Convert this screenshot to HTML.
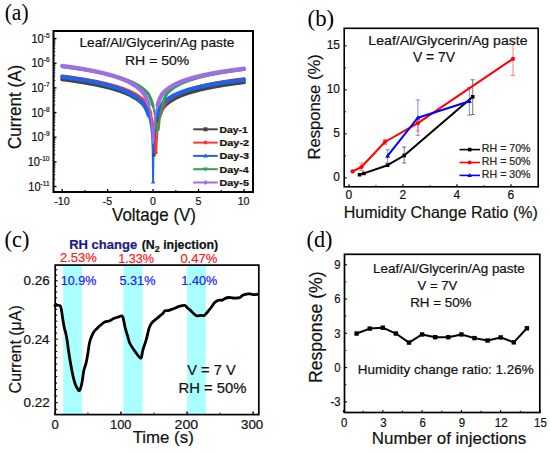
<!DOCTYPE html>
<html><head><meta charset="utf-8"><style>
html,body{margin:0;padding:0;background:#fff;width:550px;height:452px;overflow:hidden}
svg{display:block}
</style></head><body>
<svg width="550" height="452" viewBox="0 0 550 452">
<rect width="550" height="452" fill="#fff"/>
<text transform="matrix(0.9610 0 0 1 4.63 20.49)" font-family="Liberation Serif" font-size="22.44" font-weight="normal" fill="#000">(a)</text>
<polyline points="62.20,79.38 62.65,79.44 63.11,79.50 63.56,79.56 64.02,79.62 64.47,79.68 64.93,79.74 65.38,79.80 65.84,79.86 66.29,79.92 66.74,79.98 67.20,80.04 67.65,80.10 68.11,80.16 68.56,80.23 69.02,80.29 69.47,80.35 69.93,80.41 70.38,80.48 70.84,80.54 71.29,80.61 71.74,80.67 72.20,80.74 72.65,80.80 73.11,80.87 73.56,80.93 74.02,81.00 74.47,81.07 74.93,81.13 75.38,81.20 75.83,81.27 76.29,81.34 76.74,81.41 77.20,81.47 77.65,81.54 78.11,81.61 78.56,81.68 79.02,81.76 79.47,81.83 79.93,81.90 80.38,81.97 80.83,82.04 81.29,82.12 81.74,82.19 82.20,82.26 82.65,82.34 83.11,82.41 83.56,82.49 84.02,82.56 84.47,82.64 84.92,82.72 85.38,82.80 85.83,82.87 86.29,82.95 86.74,83.03 87.20,83.11 87.65,83.19 88.11,83.27 88.56,83.35 89.02,83.43 89.47,83.52 89.92,83.60 90.38,83.68 90.83,83.77 91.29,83.85 91.74,83.94 92.20,84.02 92.65,84.11 93.11,84.20 93.56,84.28 94.01,84.37 94.47,84.46 94.92,84.55 95.38,84.64 95.83,84.73 96.29,84.83 96.74,84.92 97.20,85.01 97.65,85.11 98.11,85.20 98.56,85.30 99.01,85.39 99.47,85.49 99.92,85.59 100.38,85.69 100.83,85.79 101.29,85.89 101.74,85.99 102.20,86.09 102.65,86.19 103.10,86.30 103.56,86.40 104.01,86.51 104.47,86.62 104.92,86.73 105.38,86.83 105.83,86.94 106.29,87.06 106.74,87.17 107.20,87.28 107.65,87.40 108.10,87.51 108.56,87.63 109.01,87.75 109.47,87.86 109.92,87.98 110.38,88.11 110.83,88.23 111.29,88.35 111.74,88.48 112.19,88.61 112.65,88.73 113.10,88.86 113.56,88.99 114.01,89.13 114.47,89.26 114.92,89.40 115.38,89.53 115.83,89.67 116.29,89.81 116.74,89.95 117.19,90.10 117.65,90.24 118.10,90.39 118.56,90.54 119.01,90.69 119.47,90.85 119.92,91.00 120.38,91.16 120.83,91.32 121.28,91.48 121.74,91.64 122.19,91.81 122.65,91.98 123.10,92.15 123.56,92.32 124.01,92.50 124.47,92.68 124.92,92.86 125.38,93.05 125.83,93.23 126.28,93.42 126.74,93.62 127.19,93.81 127.65,94.02 128.10,94.22 128.56,94.43 129.01,94.64 129.47,94.85 129.92,95.07 130.38,95.30 130.83,95.52 131.28,95.76 131.74,95.99 132.19,96.23 132.65,96.48 133.10,96.73 133.56,96.99 134.01,97.25 134.47,97.52 134.92,97.80 135.37,98.08 135.83,98.37 136.28,98.67 136.74,98.97 137.19,99.29 137.65,99.61 138.10,99.94 138.56,100.28 139.01,100.63 139.47,100.99 139.92,101.36 140.37,101.75 140.83,102.14 141.28,102.55 141.74,102.98 142.19,103.42 142.65,103.88 143.10,104.36 143.56,104.86 144.01,105.38 144.46,105.93 144.92,106.50 145.37,107.17 145.83,107.87 146.28,108.62 146.74,109.41 147.19,110.25 147.65,111.15 148.10,112.11 148.56,113.16 149.01,114.29 149.46,115.53 149.92,116.90 150.37,118.44 150.83,120.18 151.28,122.19 151.74,124.56 152.19,127.47 152.65,131.22 153.10,136.50 153.55,145.53 154.01,155.00 154.46,146.73 154.92,137.70 155.37,132.42 155.83,128.67 156.28,125.76 156.74,123.39 157.19,121.38 157.64,119.64 158.10,118.10 158.55,116.73 159.01,115.49 159.46,114.36 159.92,113.31 160.37,112.35 160.83,111.45 161.28,110.61 161.74,109.82 162.19,109.07 162.64,108.37 163.10,107.70 163.55,107.16 164.01,106.64 164.46,106.15 164.92,105.68 165.37,105.23 165.83,104.79 166.28,104.38 166.73,103.97 167.19,103.59 167.64,103.21 168.10,102.85 168.55,102.49 169.01,102.15 169.46,101.82 169.92,101.50 170.37,101.19 170.83,100.89 171.28,100.59 171.73,100.30 172.19,100.02 172.64,99.75 173.10,99.48 173.55,99.22 174.01,98.97 174.46,98.72 174.92,98.48 175.37,98.24 175.82,98.00 176.28,97.78 176.73,97.55 177.19,97.33 177.64,97.12 178.10,96.91 178.55,96.70 179.01,96.50 179.46,96.30 179.92,96.10 180.37,95.91 180.82,95.72 181.28,95.53 181.73,95.35 182.19,95.17 182.64,94.99 183.10,94.82 183.55,94.65 184.01,94.48 184.46,94.31 184.91,94.15 185.37,93.99 185.82,93.83 186.28,93.67 186.73,93.51 187.19,93.36 187.64,93.21 188.10,93.06 188.55,92.92 189.01,92.77 189.46,92.63 189.91,92.49 190.37,92.35 190.82,92.21 191.28,92.07 191.73,91.94 192.19,91.81 192.64,91.68 193.10,91.55 193.55,91.42 194.00,91.29 194.46,91.17 194.91,91.04 195.37,90.92 195.82,90.80 196.28,90.68 196.73,90.56 197.19,90.44 197.64,90.33 198.10,90.21 198.55,90.10 199.00,89.99 199.46,89.88 199.91,89.77 200.37,89.66 200.82,89.55 201.28,89.44 201.73,89.34 202.19,89.23 202.64,89.13 203.09,89.02 203.55,88.92 204.00,88.82 204.46,88.72 204.91,88.62 205.37,88.52 205.82,88.43 206.28,88.33 206.73,88.23 207.19,88.14 207.64,88.04 208.09,87.95 208.55,87.86 209.00,87.77 209.46,87.67 209.91,87.58 210.37,87.49 210.82,87.41 211.28,87.32 211.73,87.23 212.19,87.14 212.64,87.06 213.09,86.97 213.55,86.89 214.00,86.80 214.46,86.72 214.91,86.64 215.37,86.55 215.82,86.47 216.28,86.39 216.73,86.31 217.18,86.23 217.64,86.15 218.09,86.07 218.55,85.99 219.00,85.92 219.46,85.84 219.91,85.76 220.37,85.69 220.82,85.61 221.27,85.53 221.73,85.46 222.18,85.39 222.64,85.31 223.09,85.24 223.55,85.17 224.00,85.09 224.46,85.02 224.91,84.95 225.37,84.88 225.82,84.81 226.27,84.74 226.73,84.67 227.18,84.60 227.64,84.53 228.09,84.47 228.55,84.40 229.00,84.33 229.46,84.26 229.91,84.20 230.37,84.13 230.82,84.07 231.27,84.00 231.73,83.93 232.18,83.87 232.64,83.81 233.09,83.74 233.55,83.68 234.00,83.62 234.46,83.55 234.91,83.49 235.36,83.43 235.82,83.37 236.27,83.31 236.73,83.24 237.18,83.18 237.64,83.12 238.09,83.06 238.55,83.00 239.00,82.94 239.45,82.89 239.91,82.83 240.36,82.77 240.82,82.71 241.27,82.65 241.73,82.59 242.18,82.54 242.64,82.48 243.09,82.42 243.55,82.37 244.00,82.31" fill="none" stroke="#444444" stroke-width="1.9" stroke-linejoin="round" stroke-linecap="round" />
<polyline points="62.20,79.38 62.65,79.44 63.11,79.50 63.56,79.56 64.02,79.62 64.47,79.68 64.93,79.74 65.38,79.80 65.84,79.86 66.29,79.92 66.74,79.98 67.20,80.04 67.65,80.10 68.11,80.16 68.56,80.23 69.02,80.29 69.47,80.35 69.93,80.41 70.38,80.48 70.84,80.54 71.29,80.61 71.74,80.67 72.20,80.74 72.65,80.80 73.11,80.87 73.56,80.93 74.02,81.00 74.47,81.07 74.93,81.13 75.38,81.20 75.83,81.27 76.29,81.34 76.74,81.41 77.20,81.47 77.65,81.54 78.11,81.61 78.56,81.68 79.02,81.76 79.47,81.83 79.93,81.90 80.38,81.97 80.83,82.04 81.29,82.12 81.74,82.19 82.20,82.26 82.65,82.34 83.11,82.41 83.56,82.49 84.02,82.56 84.47,82.64 84.92,82.72 85.38,82.80 85.83,82.87 86.29,82.95 86.74,83.03 87.20,83.11 87.65,83.19 88.11,83.27 88.56,83.35 89.02,83.43 89.47,83.52 89.92,83.60 90.38,83.68 90.83,83.77 91.29,83.85 91.74,83.94 92.20,84.02 92.65,84.11 93.11,84.20 93.56,84.28 94.01,84.37 94.47,84.46 94.92,84.55 95.38,84.64 95.83,84.73 96.29,84.83 96.74,84.92 97.20,85.01 97.65,85.11 98.11,85.20 98.56,85.30 99.01,85.39 99.47,85.49 99.92,85.59 100.38,85.69 100.83,85.79 101.29,85.89 101.74,85.99 102.20,86.09 102.65,86.19 103.10,86.30 103.56,86.40 104.01,86.51 104.47,86.62 104.92,86.73 105.38,86.83 105.83,86.94 106.29,87.06 106.74,87.17 107.20,87.28 107.65,87.40 108.10,87.51 108.56,87.63 109.01,87.75 109.47,87.86 109.92,87.98 110.38,88.11 110.83,88.23 111.29,88.35 111.74,88.48 112.19,88.61 112.65,88.73 113.10,88.86 113.56,88.99 114.01,89.13 114.47,89.26 114.92,89.40 115.38,89.53 115.83,89.67 116.29,89.81 116.74,89.95 117.19,90.10 117.65,90.24 118.10,90.39 118.56,90.54 119.01,90.69 119.47,90.85 119.92,91.00 120.38,91.16 120.83,91.32 121.28,91.48 121.74,91.64 122.19,91.81 122.65,91.98 123.10,92.15 123.56,92.32 124.01,92.50 124.47,92.68 124.92,92.86 125.38,93.05 125.83,93.23 126.28,93.42 126.74,93.62 127.19,93.81 127.65,94.02 128.10,94.22 128.56,94.43 129.01,94.64 129.47,94.85 129.92,95.07 130.38,95.30 130.83,95.52 131.28,95.76 131.74,95.99 132.19,96.23 132.65,96.48 133.10,96.73 133.56,96.99 134.01,97.25 134.47,97.52 134.92,97.80 135.37,98.08 135.83,98.37 136.28,98.67 136.74,98.97 137.19,99.29 137.65,99.61 138.10,99.94 138.56,100.28 139.01,100.63 139.47,100.99 139.92,101.36 140.37,101.75 140.83,102.14 141.28,102.55 141.74,102.98 142.19,103.42 142.65,103.88 143.10,104.36 143.56,104.86 144.01,105.38 144.46,105.93 144.92,106.50 145.37,107.17 145.83,107.87 146.28,108.62 146.74,109.41 147.19,110.25 147.65,111.15 148.10,112.11 148.56,113.16 149.01,114.29 149.46,115.53" fill="none" stroke="#444444" stroke-width="3.8" stroke-linejoin="round" stroke-linecap="round" />
<polyline points="158.55,116.73 159.01,115.49 159.46,114.36 159.92,113.31 160.37,112.35 160.83,111.45 161.28,110.61 161.74,109.82 162.19,109.07 162.64,108.37 163.10,107.70 163.55,107.16 164.01,106.64 164.46,106.15 164.92,105.68 165.37,105.23 165.83,104.79 166.28,104.38 166.73,103.97 167.19,103.59 167.64,103.21 168.10,102.85 168.55,102.49 169.01,102.15 169.46,101.82 169.92,101.50 170.37,101.19 170.83,100.89 171.28,100.59 171.73,100.30 172.19,100.02 172.64,99.75 173.10,99.48 173.55,99.22 174.01,98.97 174.46,98.72 174.92,98.48 175.37,98.24 175.82,98.00 176.28,97.78 176.73,97.55 177.19,97.33 177.64,97.12 178.10,96.91 178.55,96.70 179.01,96.50 179.46,96.30 179.92,96.10 180.37,95.91 180.82,95.72 181.28,95.53 181.73,95.35 182.19,95.17 182.64,94.99 183.10,94.82 183.55,94.65 184.01,94.48 184.46,94.31 184.91,94.15 185.37,93.99 185.82,93.83 186.28,93.67 186.73,93.51 187.19,93.36 187.64,93.21 188.10,93.06 188.55,92.92 189.01,92.77 189.46,92.63 189.91,92.49 190.37,92.35 190.82,92.21 191.28,92.07 191.73,91.94 192.19,91.81 192.64,91.68 193.10,91.55 193.55,91.42 194.00,91.29 194.46,91.17 194.91,91.04 195.37,90.92 195.82,90.80 196.28,90.68 196.73,90.56 197.19,90.44 197.64,90.33 198.10,90.21 198.55,90.10 199.00,89.99 199.46,89.88 199.91,89.77 200.37,89.66 200.82,89.55 201.28,89.44 201.73,89.34 202.19,89.23 202.64,89.13 203.09,89.02 203.55,88.92 204.00,88.82 204.46,88.72 204.91,88.62 205.37,88.52 205.82,88.43 206.28,88.33 206.73,88.23 207.19,88.14 207.64,88.04 208.09,87.95 208.55,87.86 209.00,87.77 209.46,87.67 209.91,87.58 210.37,87.49 210.82,87.41 211.28,87.32 211.73,87.23 212.19,87.14 212.64,87.06 213.09,86.97 213.55,86.89 214.00,86.80 214.46,86.72 214.91,86.64 215.37,86.55 215.82,86.47 216.28,86.39 216.73,86.31 217.18,86.23 217.64,86.15 218.09,86.07 218.55,85.99 219.00,85.92 219.46,85.84 219.91,85.76 220.37,85.69 220.82,85.61 221.27,85.53 221.73,85.46 222.18,85.39 222.64,85.31 223.09,85.24 223.55,85.17 224.00,85.09 224.46,85.02 224.91,84.95 225.37,84.88 225.82,84.81 226.27,84.74 226.73,84.67 227.18,84.60 227.64,84.53 228.09,84.47 228.55,84.40 229.00,84.33 229.46,84.26 229.91,84.20 230.37,84.13 230.82,84.07 231.27,84.00 231.73,83.93 232.18,83.87 232.64,83.81 233.09,83.74 233.55,83.68 234.00,83.62 234.46,83.55 234.91,83.49 235.36,83.43 235.82,83.37 236.27,83.31 236.73,83.24 237.18,83.18 237.64,83.12 238.09,83.06 238.55,83.00 239.00,82.94 239.45,82.89 239.91,82.83 240.36,82.77 240.82,82.71 241.27,82.65 241.73,82.59 242.18,82.54 242.64,82.48 243.09,82.42 243.55,82.37 244.00,82.31" fill="none" stroke="#444444" stroke-width="3.8" stroke-linejoin="round" stroke-linecap="round" />
<polyline points="62.20,76.15 62.65,76.21 63.11,76.26 63.56,76.32 64.02,76.38 64.47,76.44 64.93,76.50 65.38,76.56 65.84,76.62 66.29,76.68 66.74,76.74 67.20,76.80 67.65,76.86 68.11,76.93 68.56,76.99 69.02,77.05 69.47,77.11 69.93,77.18 70.38,77.24 70.84,77.30 71.29,77.37 71.74,77.43 72.20,77.50 72.65,77.56 73.11,77.63 73.56,77.69 74.02,77.76 74.47,77.82 74.93,77.89 75.38,77.96 75.83,78.03 76.29,78.09 76.74,78.16 77.20,78.23 77.65,78.30 78.11,78.37 78.56,78.44 79.02,78.51 79.47,78.58 79.93,78.65 80.38,78.73 80.83,78.80 81.29,78.87 81.74,78.94 82.20,79.02 82.65,79.09 83.11,79.17 83.56,79.24 84.02,79.32 84.47,79.39 84.92,79.47 85.38,79.54 85.83,79.62 86.29,79.70 86.74,79.78 87.20,79.86 87.65,79.94 88.11,80.02 88.56,80.10 89.02,80.18 89.47,80.26 89.92,80.34 90.38,80.42 90.83,80.51 91.29,80.59 91.74,80.67 92.20,80.76 92.65,80.85 93.11,80.93 93.56,81.02 94.01,81.11 94.47,81.19 94.92,81.28 95.38,81.37 95.83,81.46 96.29,81.55 96.74,81.64 97.20,81.74 97.65,81.83 98.11,81.92 98.56,82.02 99.01,82.11 99.47,82.21 99.92,82.31 100.38,82.40 100.83,82.50 101.29,82.60 101.74,82.70 102.20,82.80 102.65,82.90 103.10,83.01 103.56,83.11 104.01,83.21 104.47,83.32 104.92,83.42 105.38,83.53 105.83,83.64 106.29,83.75 106.74,83.86 107.20,83.97 107.65,84.08 108.10,84.20 108.56,84.31 109.01,84.43 109.47,84.54 109.92,84.66 110.38,84.78 110.83,84.90 111.29,85.02 111.74,85.14 112.19,85.27 112.65,85.39 113.10,85.52 113.56,85.65 114.01,85.77 114.47,85.90 114.92,86.04 115.38,86.17 115.83,86.31 116.29,86.44 116.74,86.58 117.19,86.72 117.65,86.86 118.10,87.00 118.56,87.15 119.01,87.29 119.47,87.44 119.92,87.59 120.38,87.75 120.83,87.90 121.28,88.06 121.74,88.21 122.19,88.37 122.65,88.54 123.10,88.70 123.56,88.87 124.01,89.04 124.47,89.21 124.92,89.38 125.38,89.56 125.83,89.74 126.28,89.92 126.74,90.11 127.19,90.30 127.65,90.49 128.10,90.68 128.56,90.88 129.01,91.08 129.47,91.28 129.92,91.49 130.38,91.70 130.83,91.92 131.28,92.14 131.74,92.36 132.19,92.59 132.65,92.82 133.10,93.06 133.56,93.30 134.01,93.54 134.47,93.80 134.92,94.05 135.37,94.31 135.83,94.58 136.28,94.86 136.74,95.14 137.19,95.43 137.65,95.72 138.10,96.02 138.56,96.33 139.01,96.65 139.47,96.98 139.92,97.32 140.37,97.66 140.83,98.02 141.28,98.39 141.74,98.77 142.19,99.16 142.65,99.56 143.10,99.98 143.56,100.42 144.01,100.87 144.46,101.33 144.92,101.82 145.37,102.33 145.83,102.86 146.28,103.42 146.74,104.00 147.19,104.85 147.65,105.74 148.10,106.68 148.56,107.68 149.01,108.75 149.46,109.89 149.92,111.11 150.37,112.43 150.83,113.87 151.28,115.44 151.74,117.18 152.19,119.12 152.65,121.33 153.10,123.87 153.55,126.88 154.01,130.56 154.46,135.31 154.92,142.00 155.37,153.00 155.83,153.00 156.28,153.00 156.74,141.60 157.19,134.91 157.64,130.16 158.10,126.48 158.55,123.47 159.01,120.93 159.46,118.72 159.92,116.78 160.37,115.04 160.83,113.47 161.28,112.03 161.74,110.71 162.19,109.49 162.64,108.35 163.10,107.28 163.55,106.28 164.01,105.34 164.46,104.45 164.92,103.60 165.37,103.07 165.83,102.57 166.28,102.08 166.73,101.62 167.19,101.18 167.64,100.75 168.10,100.34 168.55,99.95 169.01,99.57 169.46,99.20 169.92,98.84 170.37,98.50 170.83,98.16 171.28,97.84 171.73,97.52 172.19,97.22 172.64,96.92 173.10,96.63 173.55,96.35 174.01,96.07 174.46,95.81 174.92,95.54 175.37,95.29 175.82,95.04 176.28,94.80 176.73,94.56 177.19,94.32 177.64,94.09 178.10,93.87 178.55,93.65 179.01,93.44 179.46,93.23 179.92,93.02 180.37,92.82 180.82,92.62 181.28,92.42 181.73,92.23 182.19,92.04 182.64,91.85 183.10,91.67 183.55,91.49 184.01,91.32 184.46,91.14 184.91,90.97 185.37,90.80 185.82,90.64 186.28,90.47 186.73,90.31 187.19,90.15 187.64,90.00 188.10,89.84 188.55,89.69 189.01,89.54 189.46,89.39 189.91,89.25 190.37,89.11 190.82,88.96 191.28,88.82 191.73,88.69 192.19,88.55 192.64,88.41 193.10,88.28 193.55,88.15 194.00,88.02 194.46,87.89 194.91,87.76 195.37,87.64 195.82,87.51 196.28,87.39 196.73,87.27 197.19,87.15 197.64,87.03 198.10,86.91 198.55,86.80 199.00,86.68 199.46,86.57 199.91,86.46 200.37,86.35 200.82,86.23 201.28,86.13 201.73,86.02 202.19,85.91 202.64,85.80 203.09,85.70 203.55,85.60 204.00,85.49 204.46,85.39 204.91,85.29 205.37,85.19 205.82,85.09 206.28,84.99 206.73,84.90 207.19,84.80 207.64,84.70 208.09,84.61 208.55,84.51 209.00,84.42 209.46,84.33 209.91,84.24 210.37,84.15 210.82,84.06 211.28,83.97 211.73,83.88 212.19,83.79 212.64,83.70 213.09,83.62 213.55,83.53 214.00,83.45 214.46,83.36 214.91,83.28 215.37,83.19 215.82,83.11 216.28,83.03 216.73,82.95 217.18,82.87 217.64,82.79 218.09,82.71 218.55,82.63 219.00,82.55 219.46,82.47 219.91,82.40 220.37,82.32 220.82,82.24 221.27,82.17 221.73,82.09 222.18,82.02 222.64,81.94 223.09,81.87 223.55,81.80 224.00,81.72 224.46,81.65 224.91,81.58 225.37,81.51 225.82,81.44 226.27,81.37 226.73,81.30 227.18,81.23 227.64,81.16 228.09,81.09 228.55,81.02 229.00,80.96 229.46,80.89 229.91,80.82 230.37,80.75 230.82,80.69 231.27,80.62 231.73,80.56 232.18,80.49 232.64,80.43 233.09,80.36 233.55,80.30 234.00,80.24 234.46,80.17 234.91,80.11 235.36,80.05 235.82,79.99 236.27,79.93 236.73,79.87 237.18,79.80 237.64,79.74 238.09,79.68 238.55,79.62 239.00,79.56 239.45,79.51 239.91,79.45 240.36,79.39 240.82,79.33 241.27,79.27 241.73,79.21 242.18,79.16 242.64,79.10 243.09,79.04 243.55,78.99 244.00,78.93" fill="none" stroke="#ff3333" stroke-width="1.9" stroke-linejoin="round" stroke-linecap="round" />
<polyline points="62.20,76.15 62.65,76.21 63.11,76.26 63.56,76.32 64.02,76.38 64.47,76.44 64.93,76.50 65.38,76.56 65.84,76.62 66.29,76.68 66.74,76.74 67.20,76.80 67.65,76.86 68.11,76.93 68.56,76.99 69.02,77.05 69.47,77.11 69.93,77.18 70.38,77.24 70.84,77.30 71.29,77.37 71.74,77.43 72.20,77.50 72.65,77.56 73.11,77.63 73.56,77.69 74.02,77.76 74.47,77.82 74.93,77.89 75.38,77.96 75.83,78.03 76.29,78.09 76.74,78.16 77.20,78.23 77.65,78.30 78.11,78.37 78.56,78.44 79.02,78.51 79.47,78.58 79.93,78.65 80.38,78.73 80.83,78.80 81.29,78.87 81.74,78.94 82.20,79.02 82.65,79.09 83.11,79.17 83.56,79.24 84.02,79.32 84.47,79.39 84.92,79.47 85.38,79.54 85.83,79.62 86.29,79.70 86.74,79.78 87.20,79.86 87.65,79.94 88.11,80.02 88.56,80.10 89.02,80.18 89.47,80.26 89.92,80.34 90.38,80.42 90.83,80.51 91.29,80.59 91.74,80.67 92.20,80.76 92.65,80.85 93.11,80.93 93.56,81.02 94.01,81.11 94.47,81.19 94.92,81.28 95.38,81.37 95.83,81.46 96.29,81.55 96.74,81.64 97.20,81.74 97.65,81.83 98.11,81.92 98.56,82.02 99.01,82.11 99.47,82.21 99.92,82.31 100.38,82.40 100.83,82.50 101.29,82.60 101.74,82.70 102.20,82.80 102.65,82.90 103.10,83.01 103.56,83.11 104.01,83.21 104.47,83.32 104.92,83.42 105.38,83.53 105.83,83.64 106.29,83.75 106.74,83.86 107.20,83.97 107.65,84.08 108.10,84.20 108.56,84.31 109.01,84.43 109.47,84.54 109.92,84.66 110.38,84.78 110.83,84.90 111.29,85.02 111.74,85.14 112.19,85.27 112.65,85.39 113.10,85.52 113.56,85.65 114.01,85.77 114.47,85.90 114.92,86.04 115.38,86.17 115.83,86.31 116.29,86.44 116.74,86.58 117.19,86.72 117.65,86.86 118.10,87.00 118.56,87.15 119.01,87.29 119.47,87.44 119.92,87.59 120.38,87.75 120.83,87.90 121.28,88.06 121.74,88.21 122.19,88.37 122.65,88.54 123.10,88.70 123.56,88.87 124.01,89.04 124.47,89.21 124.92,89.38 125.38,89.56 125.83,89.74 126.28,89.92 126.74,90.11 127.19,90.30 127.65,90.49 128.10,90.68 128.56,90.88 129.01,91.08 129.47,91.28 129.92,91.49 130.38,91.70 130.83,91.92 131.28,92.14 131.74,92.36 132.19,92.59 132.65,92.82 133.10,93.06 133.56,93.30 134.01,93.54 134.47,93.80 134.92,94.05 135.37,94.31 135.83,94.58 136.28,94.86 136.74,95.14 137.19,95.43 137.65,95.72 138.10,96.02 138.56,96.33 139.01,96.65 139.47,96.98 139.92,97.32 140.37,97.66 140.83,98.02 141.28,98.39 141.74,98.77 142.19,99.16 142.65,99.56 143.10,99.98 143.56,100.42 144.01,100.87 144.46,101.33 144.92,101.82 145.37,102.33 145.83,102.86 146.28,103.42 146.74,104.00 147.19,104.85 147.65,105.74 148.10,106.68 148.56,107.68 149.01,108.75 149.46,109.89 149.92,111.11 150.37,112.43 150.83,113.87" fill="none" stroke="#ff3333" stroke-width="3.4" stroke-linejoin="round" stroke-linecap="round" />
<polyline points="160.37,115.04 160.83,113.47 161.28,112.03 161.74,110.71 162.19,109.49 162.64,108.35 163.10,107.28 163.55,106.28 164.01,105.34 164.46,104.45 164.92,103.60 165.37,103.07 165.83,102.57 166.28,102.08 166.73,101.62 167.19,101.18 167.64,100.75 168.10,100.34 168.55,99.95 169.01,99.57 169.46,99.20 169.92,98.84 170.37,98.50 170.83,98.16 171.28,97.84 171.73,97.52 172.19,97.22 172.64,96.92 173.10,96.63 173.55,96.35 174.01,96.07 174.46,95.81 174.92,95.54 175.37,95.29 175.82,95.04 176.28,94.80 176.73,94.56 177.19,94.32 177.64,94.09 178.10,93.87 178.55,93.65 179.01,93.44 179.46,93.23 179.92,93.02 180.37,92.82 180.82,92.62 181.28,92.42 181.73,92.23 182.19,92.04 182.64,91.85 183.10,91.67 183.55,91.49 184.01,91.32 184.46,91.14 184.91,90.97 185.37,90.80 185.82,90.64 186.28,90.47 186.73,90.31 187.19,90.15 187.64,90.00 188.10,89.84 188.55,89.69 189.01,89.54 189.46,89.39 189.91,89.25 190.37,89.11 190.82,88.96 191.28,88.82 191.73,88.69 192.19,88.55 192.64,88.41 193.10,88.28 193.55,88.15 194.00,88.02 194.46,87.89 194.91,87.76 195.37,87.64 195.82,87.51 196.28,87.39 196.73,87.27 197.19,87.15 197.64,87.03 198.10,86.91 198.55,86.80 199.00,86.68 199.46,86.57 199.91,86.46 200.37,86.35 200.82,86.23 201.28,86.13 201.73,86.02 202.19,85.91 202.64,85.80 203.09,85.70 203.55,85.60 204.00,85.49 204.46,85.39 204.91,85.29 205.37,85.19 205.82,85.09 206.28,84.99 206.73,84.90 207.19,84.80 207.64,84.70 208.09,84.61 208.55,84.51 209.00,84.42 209.46,84.33 209.91,84.24 210.37,84.15 210.82,84.06 211.28,83.97 211.73,83.88 212.19,83.79 212.64,83.70 213.09,83.62 213.55,83.53 214.00,83.45 214.46,83.36 214.91,83.28 215.37,83.19 215.82,83.11 216.28,83.03 216.73,82.95 217.18,82.87 217.64,82.79 218.09,82.71 218.55,82.63 219.00,82.55 219.46,82.47 219.91,82.40 220.37,82.32 220.82,82.24 221.27,82.17 221.73,82.09 222.18,82.02 222.64,81.94 223.09,81.87 223.55,81.80 224.00,81.72 224.46,81.65 224.91,81.58 225.37,81.51 225.82,81.44 226.27,81.37 226.73,81.30 227.18,81.23 227.64,81.16 228.09,81.09 228.55,81.02 229.00,80.96 229.46,80.89 229.91,80.82 230.37,80.75 230.82,80.69 231.27,80.62 231.73,80.56 232.18,80.49 232.64,80.43 233.09,80.36 233.55,80.30 234.00,80.24 234.46,80.17 234.91,80.11 235.36,80.05 235.82,79.99 236.27,79.93 236.73,79.87 237.18,79.80 237.64,79.74 238.09,79.68 238.55,79.62 239.00,79.56 239.45,79.51 239.91,79.45 240.36,79.39 240.82,79.33 241.27,79.27 241.73,79.21 242.18,79.16 242.64,79.10 243.09,79.04 243.55,78.99 244.00,78.93" fill="none" stroke="#ff3333" stroke-width="3.4" stroke-linejoin="round" stroke-linecap="round" />
<polyline points="62.20,76.80 62.65,76.86 63.11,76.92 63.56,76.98 64.02,77.05 64.47,77.11 64.93,77.17 65.38,77.23 65.84,77.30 66.29,77.36 66.74,77.42 67.20,77.49 67.65,77.55 68.11,77.62 68.56,77.68 69.02,77.75 69.47,77.81 69.93,77.88 70.38,77.95 70.84,78.01 71.29,78.08 71.74,78.15 72.20,78.22 72.65,78.29 73.11,78.35 73.56,78.42 74.02,78.49 74.47,78.56 74.93,78.63 75.38,78.70 75.83,78.78 76.29,78.85 76.74,78.92 77.20,78.99 77.65,79.07 78.11,79.14 78.56,79.21 79.02,79.29 79.47,79.36 79.93,79.44 80.38,79.51 80.83,79.59 81.29,79.67 81.74,79.74 82.20,79.82 82.65,79.90 83.11,79.98 83.56,80.06 84.02,80.14 84.47,80.22 84.92,80.30 85.38,80.38 85.83,80.46 86.29,80.54 86.74,80.63 87.20,80.71 87.65,80.79 88.11,80.88 88.56,80.96 89.02,81.05 89.47,81.14 89.92,81.22 90.38,81.31 90.83,81.40 91.29,81.49 91.74,81.58 92.20,81.67 92.65,81.76 93.11,81.85 93.56,81.95 94.01,82.04 94.47,82.13 94.92,82.23 95.38,82.32 95.83,82.42 96.29,82.52 96.74,82.61 97.20,82.71 97.65,82.81 98.11,82.91 98.56,83.01 99.01,83.11 99.47,83.22 99.92,83.32 100.38,83.42 100.83,83.53 101.29,83.64 101.74,83.74 102.20,83.85 102.65,83.96 103.10,84.07 103.56,84.18 104.01,84.29 104.47,84.41 104.92,84.52 105.38,84.64 105.83,84.75 106.29,84.87 106.74,84.99 107.20,85.11 107.65,85.23 108.10,85.35 108.56,85.47 109.01,85.60 109.47,85.73 109.92,85.85 110.38,85.98 110.83,86.11 111.29,86.24 111.74,86.38 112.19,86.51 112.65,86.65 113.10,86.78 113.56,86.92 114.01,87.06 114.47,87.21 114.92,87.35 115.38,87.49 115.83,87.64 116.29,87.79 116.74,87.94 117.19,88.10 117.65,88.25 118.10,88.41 118.56,88.57 119.01,88.73 119.47,88.89 119.92,89.06 120.38,89.22 120.83,89.39 121.28,89.57 121.74,89.74 122.19,89.92 122.65,90.10 123.10,90.28 123.56,90.47 124.01,90.66 124.47,90.85 124.92,91.04 125.38,91.24 125.83,91.44 126.28,91.64 126.74,91.85 127.19,92.06 127.65,92.28 128.10,92.50 128.56,92.72 129.01,92.95 129.47,93.18 129.92,93.42 130.38,93.66 130.83,93.90 131.28,94.15 131.74,94.41 132.19,94.67 132.65,94.94 133.10,95.21 133.56,95.49 134.01,95.78 134.47,96.07 134.92,96.37 135.37,96.68 135.83,96.99 136.28,97.32 136.74,97.65 137.19,97.99 137.65,98.35 138.10,98.71 138.56,99.08 139.01,99.47 139.47,99.87 139.92,100.28 140.37,100.71 140.83,101.15 141.28,101.61 141.74,102.09 142.19,102.58 142.65,103.10 143.10,103.64 143.56,104.21 144.01,104.80 144.46,105.56 144.92,106.36 145.37,107.20 145.83,108.09 146.28,109.05 146.74,110.07 147.19,111.16 147.65,112.34 148.10,113.63 148.56,115.04 149.01,116.59 149.46,118.33 149.92,120.30 150.37,122.58 150.83,125.27 151.28,128.56 151.74,132.81 152.19,138.80 152.65,149.04 153.10,182.00 153.55,148.54 154.01,138.30 154.46,132.31 154.92,128.06 155.37,124.77 155.83,122.08 156.28,119.80 156.74,117.83 157.19,116.09 157.64,114.54 158.10,113.13 158.55,111.84 159.01,110.66 159.46,109.57 159.92,108.55 160.37,107.59 160.83,106.70 161.28,105.86 161.74,105.06 162.19,104.30 162.64,103.78 163.10,103.29 163.55,102.81 164.01,102.36 164.46,101.93 164.92,101.51 165.37,101.11 165.83,100.72 166.28,100.35 166.73,99.99 167.19,99.64 167.64,99.30 168.10,98.97 168.55,98.65 169.01,98.35 169.46,98.05 169.92,97.75 170.37,97.47 170.83,97.19 171.28,96.92 171.73,96.66 172.19,96.41 172.64,96.16 173.10,95.91 173.55,95.67 174.01,95.44 174.46,95.21 174.92,94.98 175.37,94.77 175.82,94.55 176.28,94.34 176.73,94.13 177.19,93.93 177.64,93.73 178.10,93.54 178.55,93.34 179.01,93.16 179.46,92.97 179.92,92.79 180.37,92.61 180.82,92.43 181.28,92.26 181.73,92.09 182.19,91.92 182.64,91.76 183.10,91.60 183.55,91.44 184.01,91.28 184.46,91.12 184.91,90.97 185.37,90.82 185.82,90.67 186.28,90.52 186.73,90.38 187.19,90.24 187.64,90.10 188.10,89.96 188.55,89.82 189.01,89.68 189.46,89.55 189.91,89.42 190.37,89.29 190.82,89.16 191.28,89.03 191.73,88.90 192.19,88.78 192.64,88.66 193.10,88.54 193.55,88.42 194.00,88.30 194.46,88.18 194.91,88.06 195.37,87.95 195.82,87.83 196.28,87.72 196.73,87.61 197.19,87.50 197.64,87.39 198.10,87.28 198.55,87.18 199.00,87.07 199.46,86.96 199.91,86.86 200.37,86.76 200.82,86.66 201.28,86.56 201.73,86.46 202.19,86.36 202.64,86.26 203.09,86.16 203.55,86.06 204.00,85.97 204.46,85.87 204.91,85.78 205.37,85.69 205.82,85.60 206.28,85.50 206.73,85.41 207.19,85.32 207.64,85.24 208.09,85.15 208.55,85.06 209.00,84.97 209.46,84.89 209.91,84.80 210.37,84.72 210.82,84.63 211.28,84.55 211.73,84.47 212.19,84.38 212.64,84.30 213.09,84.22 213.55,84.14 214.00,84.06 214.46,83.98 214.91,83.90 215.37,83.83 215.82,83.75 216.28,83.67 216.73,83.60 217.18,83.52 217.64,83.44 218.09,83.37 218.55,83.30 219.00,83.22 219.46,83.15 219.91,83.08 220.37,83.00 220.82,82.93 221.27,82.86 221.73,82.79 222.18,82.72 222.64,82.65 223.09,82.58 223.55,82.51 224.00,82.44 224.46,82.38 224.91,82.31 225.37,82.24 225.82,82.17 226.27,82.11 226.73,82.04 227.18,81.98 227.64,81.91 228.09,81.85 228.55,81.78 229.00,81.72 229.46,81.66 229.91,81.59 230.37,81.53 230.82,81.47 231.27,81.40 231.73,81.34 232.18,81.28 232.64,81.22 233.09,81.16 233.55,81.10 234.00,81.04 234.46,80.98 234.91,80.92 235.36,80.86 235.82,80.80 236.27,80.75 236.73,80.69 237.18,80.63 237.64,80.57 238.09,80.52 238.55,80.46 239.00,80.40 239.45,80.35 239.91,80.29 240.36,80.23 240.82,80.18 241.27,80.12 241.73,80.07 242.18,80.01 242.64,79.96 243.09,79.91 243.55,79.85 244.00,79.80" fill="none" stroke="#1f63e6" stroke-width="1.9" stroke-linejoin="round" stroke-linecap="round" />
<polyline points="62.20,76.80 62.65,76.86 63.11,76.92 63.56,76.98 64.02,77.05 64.47,77.11 64.93,77.17 65.38,77.23 65.84,77.30 66.29,77.36 66.74,77.42 67.20,77.49 67.65,77.55 68.11,77.62 68.56,77.68 69.02,77.75 69.47,77.81 69.93,77.88 70.38,77.95 70.84,78.01 71.29,78.08 71.74,78.15 72.20,78.22 72.65,78.29 73.11,78.35 73.56,78.42 74.02,78.49 74.47,78.56 74.93,78.63 75.38,78.70 75.83,78.78 76.29,78.85 76.74,78.92 77.20,78.99 77.65,79.07 78.11,79.14 78.56,79.21 79.02,79.29 79.47,79.36 79.93,79.44 80.38,79.51 80.83,79.59 81.29,79.67 81.74,79.74 82.20,79.82 82.65,79.90 83.11,79.98 83.56,80.06 84.02,80.14 84.47,80.22 84.92,80.30 85.38,80.38 85.83,80.46 86.29,80.54 86.74,80.63 87.20,80.71 87.65,80.79 88.11,80.88 88.56,80.96 89.02,81.05 89.47,81.14 89.92,81.22 90.38,81.31 90.83,81.40 91.29,81.49 91.74,81.58 92.20,81.67 92.65,81.76 93.11,81.85 93.56,81.95 94.01,82.04 94.47,82.13 94.92,82.23 95.38,82.32 95.83,82.42 96.29,82.52 96.74,82.61 97.20,82.71 97.65,82.81 98.11,82.91 98.56,83.01 99.01,83.11 99.47,83.22 99.92,83.32 100.38,83.42 100.83,83.53 101.29,83.64 101.74,83.74 102.20,83.85 102.65,83.96 103.10,84.07 103.56,84.18 104.01,84.29 104.47,84.41 104.92,84.52 105.38,84.64 105.83,84.75 106.29,84.87 106.74,84.99 107.20,85.11 107.65,85.23 108.10,85.35 108.56,85.47 109.01,85.60 109.47,85.73 109.92,85.85 110.38,85.98 110.83,86.11 111.29,86.24 111.74,86.38 112.19,86.51 112.65,86.65 113.10,86.78 113.56,86.92 114.01,87.06 114.47,87.21 114.92,87.35 115.38,87.49 115.83,87.64 116.29,87.79 116.74,87.94 117.19,88.10 117.65,88.25 118.10,88.41 118.56,88.57 119.01,88.73 119.47,88.89 119.92,89.06 120.38,89.22 120.83,89.39 121.28,89.57 121.74,89.74 122.19,89.92 122.65,90.10 123.10,90.28 123.56,90.47 124.01,90.66 124.47,90.85 124.92,91.04 125.38,91.24 125.83,91.44 126.28,91.64 126.74,91.85 127.19,92.06 127.65,92.28 128.10,92.50 128.56,92.72 129.01,92.95 129.47,93.18 129.92,93.42 130.38,93.66 130.83,93.90 131.28,94.15 131.74,94.41 132.19,94.67 132.65,94.94 133.10,95.21 133.56,95.49 134.01,95.78 134.47,96.07 134.92,96.37 135.37,96.68 135.83,96.99 136.28,97.32 136.74,97.65 137.19,97.99 137.65,98.35 138.10,98.71 138.56,99.08 139.01,99.47 139.47,99.87 139.92,100.28 140.37,100.71 140.83,101.15 141.28,101.61 141.74,102.09 142.19,102.58 142.65,103.10 143.10,103.64 143.56,104.21 144.01,104.80 144.46,105.56 144.92,106.36 145.37,107.20 145.83,108.09 146.28,109.05 146.74,110.07 147.19,111.16 147.65,112.34 148.10,113.63 148.56,115.04" fill="none" stroke="#1f63e6" stroke-width="4.2" stroke-linejoin="round" stroke-linecap="round" />
<polyline points="157.64,114.54 158.10,113.13 158.55,111.84 159.01,110.66 159.46,109.57 159.92,108.55 160.37,107.59 160.83,106.70 161.28,105.86 161.74,105.06 162.19,104.30 162.64,103.78 163.10,103.29 163.55,102.81 164.01,102.36 164.46,101.93 164.92,101.51 165.37,101.11 165.83,100.72 166.28,100.35 166.73,99.99 167.19,99.64 167.64,99.30 168.10,98.97 168.55,98.65 169.01,98.35 169.46,98.05 169.92,97.75 170.37,97.47 170.83,97.19 171.28,96.92 171.73,96.66 172.19,96.41 172.64,96.16 173.10,95.91 173.55,95.67 174.01,95.44 174.46,95.21 174.92,94.98 175.37,94.77 175.82,94.55 176.28,94.34 176.73,94.13 177.19,93.93 177.64,93.73 178.10,93.54 178.55,93.34 179.01,93.16 179.46,92.97 179.92,92.79 180.37,92.61 180.82,92.43 181.28,92.26 181.73,92.09 182.19,91.92 182.64,91.76 183.10,91.60 183.55,91.44 184.01,91.28 184.46,91.12 184.91,90.97 185.37,90.82 185.82,90.67 186.28,90.52 186.73,90.38 187.19,90.24 187.64,90.10 188.10,89.96 188.55,89.82 189.01,89.68 189.46,89.55 189.91,89.42 190.37,89.29 190.82,89.16 191.28,89.03 191.73,88.90 192.19,88.78 192.64,88.66 193.10,88.54 193.55,88.42 194.00,88.30 194.46,88.18 194.91,88.06 195.37,87.95 195.82,87.83 196.28,87.72 196.73,87.61 197.19,87.50 197.64,87.39 198.10,87.28 198.55,87.18 199.00,87.07 199.46,86.96 199.91,86.86 200.37,86.76 200.82,86.66 201.28,86.56 201.73,86.46 202.19,86.36 202.64,86.26 203.09,86.16 203.55,86.06 204.00,85.97 204.46,85.87 204.91,85.78 205.37,85.69 205.82,85.60 206.28,85.50 206.73,85.41 207.19,85.32 207.64,85.24 208.09,85.15 208.55,85.06 209.00,84.97 209.46,84.89 209.91,84.80 210.37,84.72 210.82,84.63 211.28,84.55 211.73,84.47 212.19,84.38 212.64,84.30 213.09,84.22 213.55,84.14 214.00,84.06 214.46,83.98 214.91,83.90 215.37,83.83 215.82,83.75 216.28,83.67 216.73,83.60 217.18,83.52 217.64,83.44 218.09,83.37 218.55,83.30 219.00,83.22 219.46,83.15 219.91,83.08 220.37,83.00 220.82,82.93 221.27,82.86 221.73,82.79 222.18,82.72 222.64,82.65 223.09,82.58 223.55,82.51 224.00,82.44 224.46,82.38 224.91,82.31 225.37,82.24 225.82,82.17 226.27,82.11 226.73,82.04 227.18,81.98 227.64,81.91 228.09,81.85 228.55,81.78 229.00,81.72 229.46,81.66 229.91,81.59 230.37,81.53 230.82,81.47 231.27,81.40 231.73,81.34 232.18,81.28 232.64,81.22 233.09,81.16 233.55,81.10 234.00,81.04 234.46,80.98 234.91,80.92 235.36,80.86 235.82,80.80 236.27,80.75 236.73,80.69 237.18,80.63 237.64,80.57 238.09,80.52 238.55,80.46 239.00,80.40 239.45,80.35 239.91,80.29 240.36,80.23 240.82,80.18 241.27,80.12 241.73,80.07 242.18,80.01 242.64,79.96 243.09,79.91 243.55,79.85 244.00,79.80" fill="none" stroke="#1f63e6" stroke-width="4.2" stroke-linejoin="round" stroke-linecap="round" />
<polyline points="62.20,66.73 62.65,66.78 63.11,66.84 63.56,66.90 64.02,66.95 64.47,67.01 64.93,67.07 65.38,67.13 65.84,67.18 66.29,67.24 66.74,67.30 67.20,67.36 67.65,67.42 68.11,67.48 68.56,67.54 69.02,67.60 69.47,67.66 69.93,67.72 70.38,67.78 70.84,67.84 71.29,67.90 71.74,67.96 72.20,68.03 72.65,68.09 73.11,68.15 73.56,68.21 74.02,68.28 74.47,68.34 74.93,68.41 75.38,68.47 75.83,68.54 76.29,68.60 76.74,68.67 77.20,68.73 77.65,68.80 78.11,68.87 78.56,68.93 79.02,69.00 79.47,69.07 79.93,69.14 80.38,69.21 80.83,69.27 81.29,69.34 81.74,69.41 82.20,69.48 82.65,69.56 83.11,69.63 83.56,69.70 84.02,69.77 84.47,69.84 84.92,69.92 85.38,69.99 85.83,70.06 86.29,70.14 86.74,70.21 87.20,70.29 87.65,70.36 88.11,70.44 88.56,70.52 89.02,70.60 89.47,70.67 89.92,70.75 90.38,70.83 90.83,70.91 91.29,70.99 91.74,71.07 92.20,71.15 92.65,71.23 93.11,71.32 93.56,71.40 94.01,71.48 94.47,71.57 94.92,71.65 95.38,71.74 95.83,71.82 96.29,71.91 96.74,72.00 97.20,72.08 97.65,72.17 98.11,72.26 98.56,72.35 99.01,72.44 99.47,72.53 99.92,72.63 100.38,72.72 100.83,72.81 101.29,72.91 101.74,73.00 102.20,73.10 102.65,73.19 103.10,73.29 103.56,73.39 104.01,73.49 104.47,73.59 104.92,73.69 105.38,73.79 105.83,73.89 106.29,73.99 106.74,74.10 107.20,74.20 107.65,74.31 108.10,74.42 108.56,74.53 109.01,74.63 109.47,74.74 109.92,74.86 110.38,74.97 110.83,75.08 111.29,75.20 111.74,75.31 112.19,75.43 112.65,75.55 113.10,75.66 113.56,75.78 114.01,75.91 114.47,76.03 114.92,76.15 115.38,76.28 115.83,76.41 116.29,76.53 116.74,76.66 117.19,76.79 117.65,76.93 118.10,77.06 118.56,77.20 119.01,77.33 119.47,77.47 119.92,77.61 120.38,77.75 120.83,77.90 121.28,78.04 121.74,78.19 122.19,78.34 122.65,78.49 123.10,78.65 123.56,78.80 124.01,78.96 124.47,79.12 124.92,79.28 125.38,79.44 125.83,79.61 126.28,79.78 126.74,79.95 127.19,80.12 127.65,80.30 128.10,80.48 128.56,80.66 129.01,80.85 129.47,81.03 129.92,81.22 130.38,81.42 130.83,81.61 131.28,81.82 131.74,82.02 132.19,82.23 132.65,82.44 133.10,82.65 133.56,82.87 134.01,83.10 134.47,83.32 134.92,83.56 135.37,83.79 135.83,84.03 136.28,84.28 136.74,84.53 137.19,84.79 137.65,85.05 138.10,85.32 138.56,85.60 139.01,85.88 139.47,86.17 139.92,86.47 140.37,86.77 140.83,87.09 141.28,87.41 141.74,87.74 142.19,88.08 142.65,88.43 143.10,88.79 143.56,89.16 144.01,89.55 144.46,89.94 144.92,90.35 145.37,90.78 145.83,91.22 146.28,91.68 146.74,92.16 147.19,92.66 147.65,93.18 148.10,93.73 148.56,94.30 149.01,95.19 149.46,96.13 149.92,97.12 150.37,98.18 150.83,99.30 151.28,100.50 151.74,101.78 152.19,103.17 152.65,104.69 153.10,106.34 153.55,108.17 154.01,110.22 154.46,112.54 154.92,115.22 155.37,118.38 155.83,122.26 156.28,127.26 156.74,130.00 157.19,130.00 157.64,130.00 158.10,130.00 158.55,130.00 159.01,126.86 159.46,121.86 159.92,117.98 160.37,114.82 160.83,112.14 161.28,109.82 161.74,107.77 162.19,105.94 162.64,104.29 163.10,102.77 163.55,101.38 164.01,100.10 164.46,98.90 164.92,97.78 165.37,96.72 165.83,95.73 166.28,94.79 166.73,93.90 167.19,93.37 167.64,92.87 168.10,92.38 168.55,91.92 169.01,91.48 169.46,91.05 169.92,90.64 170.37,90.25 170.83,89.87 171.28,89.50 171.73,89.14 172.19,88.80 172.64,88.46 173.10,88.14 173.55,87.82 174.01,87.52 174.46,87.22 174.92,86.93 175.37,86.65 175.82,86.37 176.28,86.11 176.73,85.84 177.19,85.59 177.64,85.34 178.10,85.10 178.55,84.86 179.01,84.62 179.46,84.39 179.92,84.17 180.37,83.95 180.82,83.74 181.28,83.53 181.73,83.32 182.19,83.12 182.64,82.92 183.10,82.72 183.55,82.53 184.01,82.34 184.46,82.15 184.91,81.97 185.37,81.79 185.82,81.62 186.28,81.44 186.73,81.27 187.19,81.10 187.64,80.94 188.10,80.77 188.55,80.61 189.01,80.45 189.46,80.30 189.91,80.14 190.37,79.99 190.82,79.84 191.28,79.69 191.73,79.55 192.19,79.41 192.64,79.26 193.10,79.12 193.55,78.99 194.00,78.85 194.46,78.71 194.91,78.58 195.37,78.45 195.82,78.32 196.28,78.19 196.73,78.06 197.19,77.94 197.64,77.81 198.10,77.69 198.55,77.57 199.00,77.45 199.46,77.33 199.91,77.21 200.37,77.10 200.82,76.98 201.28,76.87 201.73,76.76 202.19,76.65 202.64,76.53 203.09,76.43 203.55,76.32 204.00,76.21 204.46,76.10 204.91,76.00 205.37,75.90 205.82,75.79 206.28,75.69 206.73,75.59 207.19,75.49 207.64,75.39 208.09,75.29 208.55,75.20 209.00,75.10 209.46,75.00 209.91,74.91 210.37,74.81 210.82,74.72 211.28,74.63 211.73,74.54 212.19,74.45 212.64,74.36 213.09,74.27 213.55,74.18 214.00,74.09 214.46,74.00 214.91,73.92 215.37,73.83 215.82,73.75 216.28,73.66 216.73,73.58 217.18,73.49 217.64,73.41 218.09,73.33 218.55,73.25 219.00,73.17 219.46,73.09 219.91,73.01 220.37,72.93 220.82,72.85 221.27,72.77 221.73,72.70 222.18,72.62 222.64,72.54 223.09,72.47 223.55,72.39 224.00,72.32 224.46,72.24 224.91,72.17 225.37,72.10 225.82,72.02 226.27,71.95 226.73,71.88 227.18,71.81 227.64,71.74 228.09,71.67 228.55,71.60 229.00,71.53 229.46,71.46 229.91,71.39 230.37,71.32 230.82,71.26 231.27,71.19 231.73,71.12 232.18,71.05 232.64,70.99 233.09,70.92 233.55,70.86 234.00,70.79 234.46,70.73 234.91,70.66 235.36,70.60 235.82,70.54 236.27,70.47 236.73,70.41 237.18,70.35 237.64,70.29 238.09,70.23 238.55,70.17 239.00,70.10 239.45,70.04 239.91,69.98 240.36,69.92 240.82,69.86 241.27,69.81 241.73,69.75 242.18,69.69 242.64,69.63 243.09,69.57 243.55,69.51 244.00,69.46" fill="none" stroke="#2e9e55" stroke-width="1.9" stroke-linejoin="round" stroke-linecap="round" />
<polyline points="62.20,66.73 62.65,66.78 63.11,66.84 63.56,66.90 64.02,66.95 64.47,67.01 64.93,67.07 65.38,67.13 65.84,67.18 66.29,67.24 66.74,67.30 67.20,67.36 67.65,67.42 68.11,67.48 68.56,67.54 69.02,67.60 69.47,67.66 69.93,67.72 70.38,67.78 70.84,67.84 71.29,67.90 71.74,67.96 72.20,68.03 72.65,68.09 73.11,68.15 73.56,68.21 74.02,68.28 74.47,68.34 74.93,68.41 75.38,68.47 75.83,68.54 76.29,68.60 76.74,68.67 77.20,68.73 77.65,68.80 78.11,68.87 78.56,68.93 79.02,69.00 79.47,69.07 79.93,69.14 80.38,69.21 80.83,69.27 81.29,69.34 81.74,69.41 82.20,69.48 82.65,69.56 83.11,69.63 83.56,69.70 84.02,69.77 84.47,69.84 84.92,69.92 85.38,69.99 85.83,70.06 86.29,70.14 86.74,70.21 87.20,70.29 87.65,70.36 88.11,70.44 88.56,70.52 89.02,70.60 89.47,70.67 89.92,70.75 90.38,70.83 90.83,70.91 91.29,70.99 91.74,71.07 92.20,71.15 92.65,71.23 93.11,71.32 93.56,71.40 94.01,71.48 94.47,71.57 94.92,71.65 95.38,71.74 95.83,71.82 96.29,71.91 96.74,72.00 97.20,72.08 97.65,72.17 98.11,72.26 98.56,72.35 99.01,72.44 99.47,72.53 99.92,72.63 100.38,72.72 100.83,72.81 101.29,72.91 101.74,73.00 102.20,73.10 102.65,73.19 103.10,73.29 103.56,73.39 104.01,73.49 104.47,73.59 104.92,73.69 105.38,73.79 105.83,73.89 106.29,73.99 106.74,74.10 107.20,74.20 107.65,74.31 108.10,74.42 108.56,74.53 109.01,74.63 109.47,74.74 109.92,74.86 110.38,74.97 110.83,75.08 111.29,75.20 111.74,75.31 112.19,75.43 112.65,75.55 113.10,75.66 113.56,75.78 114.01,75.91 114.47,76.03 114.92,76.15 115.38,76.28 115.83,76.41 116.29,76.53 116.74,76.66 117.19,76.79 117.65,76.93 118.10,77.06 118.56,77.20 119.01,77.33 119.47,77.47 119.92,77.61 120.38,77.75 120.83,77.90 121.28,78.04 121.74,78.19 122.19,78.34 122.65,78.49 123.10,78.65 123.56,78.80 124.01,78.96 124.47,79.12 124.92,79.28 125.38,79.44 125.83,79.61 126.28,79.78 126.74,79.95 127.19,80.12 127.65,80.30 128.10,80.48 128.56,80.66 129.01,80.85 129.47,81.03 129.92,81.22 130.38,81.42 130.83,81.61 131.28,81.82 131.74,82.02 132.19,82.23 132.65,82.44 133.10,82.65 133.56,82.87 134.01,83.10 134.47,83.32 134.92,83.56 135.37,83.79 135.83,84.03 136.28,84.28 136.74,84.53 137.19,84.79 137.65,85.05 138.10,85.32 138.56,85.60 139.01,85.88 139.47,86.17 139.92,86.47 140.37,86.77 140.83,87.09 141.28,87.41 141.74,87.74 142.19,88.08 142.65,88.43 143.10,88.79 143.56,89.16 144.01,89.55 144.46,89.94 144.92,90.35 145.37,90.78 145.83,91.22 146.28,91.68 146.74,92.16 147.19,92.66 147.65,93.18 148.10,93.73 148.56,94.30 149.01,95.19 149.46,96.13 149.92,97.12 150.37,98.18 150.83,99.30 151.28,100.50 151.74,101.78 152.19,103.17 152.65,104.69 153.10,106.34" fill="none" stroke="#2e9e55" stroke-width="3.1" stroke-linejoin="round" stroke-linecap="round" />
<polyline points="162.19,105.94 162.64,104.29 163.10,102.77 163.55,101.38 164.01,100.10 164.46,98.90 164.92,97.78 165.37,96.72 165.83,95.73 166.28,94.79 166.73,93.90 167.19,93.37 167.64,92.87 168.10,92.38 168.55,91.92 169.01,91.48 169.46,91.05 169.92,90.64 170.37,90.25 170.83,89.87 171.28,89.50 171.73,89.14 172.19,88.80 172.64,88.46 173.10,88.14 173.55,87.82 174.01,87.52 174.46,87.22 174.92,86.93 175.37,86.65 175.82,86.37 176.28,86.11 176.73,85.84 177.19,85.59 177.64,85.34 178.10,85.10 178.55,84.86 179.01,84.62 179.46,84.39 179.92,84.17 180.37,83.95 180.82,83.74 181.28,83.53 181.73,83.32 182.19,83.12 182.64,82.92 183.10,82.72 183.55,82.53 184.01,82.34 184.46,82.15 184.91,81.97 185.37,81.79 185.82,81.62 186.28,81.44 186.73,81.27 187.19,81.10 187.64,80.94 188.10,80.77 188.55,80.61 189.01,80.45 189.46,80.30 189.91,80.14 190.37,79.99 190.82,79.84 191.28,79.69 191.73,79.55 192.19,79.41 192.64,79.26 193.10,79.12 193.55,78.99 194.00,78.85 194.46,78.71 194.91,78.58 195.37,78.45 195.82,78.32 196.28,78.19 196.73,78.06 197.19,77.94 197.64,77.81 198.10,77.69 198.55,77.57 199.00,77.45 199.46,77.33 199.91,77.21 200.37,77.10 200.82,76.98 201.28,76.87 201.73,76.76 202.19,76.65 202.64,76.53 203.09,76.43 203.55,76.32 204.00,76.21 204.46,76.10 204.91,76.00 205.37,75.90 205.82,75.79 206.28,75.69 206.73,75.59 207.19,75.49 207.64,75.39 208.09,75.29 208.55,75.20 209.00,75.10 209.46,75.00 209.91,74.91 210.37,74.81 210.82,74.72 211.28,74.63 211.73,74.54 212.19,74.45 212.64,74.36 213.09,74.27 213.55,74.18 214.00,74.09 214.46,74.00 214.91,73.92 215.37,73.83 215.82,73.75 216.28,73.66 216.73,73.58 217.18,73.49 217.64,73.41 218.09,73.33 218.55,73.25 219.00,73.17 219.46,73.09 219.91,73.01 220.37,72.93 220.82,72.85 221.27,72.77 221.73,72.70 222.18,72.62 222.64,72.54 223.09,72.47 223.55,72.39 224.00,72.32 224.46,72.24 224.91,72.17 225.37,72.10 225.82,72.02 226.27,71.95 226.73,71.88 227.18,71.81 227.64,71.74 228.09,71.67 228.55,71.60 229.00,71.53 229.46,71.46 229.91,71.39 230.37,71.32 230.82,71.26 231.27,71.19 231.73,71.12 232.18,71.05 232.64,70.99 233.09,70.92 233.55,70.86 234.00,70.79 234.46,70.73 234.91,70.66 235.36,70.60 235.82,70.54 236.27,70.47 236.73,70.41 237.18,70.35 237.64,70.29 238.09,70.23 238.55,70.17 239.00,70.10 239.45,70.04 239.91,69.98 240.36,69.92 240.82,69.86 241.27,69.81 241.73,69.75 242.18,69.69 242.64,69.63 243.09,69.57 243.55,69.51 244.00,69.46" fill="none" stroke="#2e9e55" stroke-width="3.1" stroke-linejoin="round" stroke-linecap="round" />
<polyline points="62.20,65.90 62.65,65.96 63.11,66.02 63.56,66.08 64.02,66.15 64.47,66.21 64.93,66.27 65.38,66.33 65.84,66.40 66.29,66.46 66.74,66.52 67.20,66.59 67.65,66.65 68.11,66.72 68.56,66.78 69.02,66.85 69.47,66.91 69.93,66.98 70.38,67.05 70.84,67.11 71.29,67.18 71.74,67.25 72.20,67.32 72.65,67.39 73.11,67.45 73.56,67.52 74.02,67.59 74.47,67.66 74.93,67.73 75.38,67.80 75.83,67.88 76.29,67.95 76.74,68.02 77.20,68.09 77.65,68.17 78.11,68.24 78.56,68.31 79.02,68.39 79.47,68.46 79.93,68.54 80.38,68.61 80.83,68.69 81.29,68.77 81.74,68.84 82.20,68.92 82.65,69.00 83.11,69.08 83.56,69.16 84.02,69.24 84.47,69.32 84.92,69.40 85.38,69.48 85.83,69.56 86.29,69.64 86.74,69.73 87.20,69.81 87.65,69.89 88.11,69.98 88.56,70.06 89.02,70.15 89.47,70.24 89.92,70.32 90.38,70.41 90.83,70.50 91.29,70.59 91.74,70.68 92.20,70.77 92.65,70.86 93.11,70.95 93.56,71.05 94.01,71.14 94.47,71.23 94.92,71.33 95.38,71.42 95.83,71.52 96.29,71.62 96.74,71.71 97.20,71.81 97.65,71.91 98.11,72.01 98.56,72.11 99.01,72.21 99.47,72.32 99.92,72.42 100.38,72.52 100.83,72.63 101.29,72.74 101.74,72.84 102.20,72.95 102.65,73.06 103.10,73.17 103.56,73.28 104.01,73.39 104.47,73.51 104.92,73.62 105.38,73.74 105.83,73.85 106.29,73.97 106.74,74.09 107.20,74.21 107.65,74.33 108.10,74.45 108.56,74.57 109.01,74.70 109.47,74.83 109.92,74.95 110.38,75.08 110.83,75.21 111.29,75.34 111.74,75.48 112.19,75.61 112.65,75.75 113.10,75.88 113.56,76.02 114.01,76.16 114.47,76.31 114.92,76.45 115.38,76.59 115.83,76.74 116.29,76.89 116.74,77.04 117.19,77.20 117.65,77.35 118.10,77.51 118.56,77.67 119.01,77.83 119.47,77.99 119.92,78.16 120.38,78.32 120.83,78.49 121.28,78.67 121.74,78.84 122.19,79.02 122.65,79.20 123.10,79.38 123.56,79.57 124.01,79.76 124.47,79.95 124.92,80.14 125.38,80.34 125.83,80.54 126.28,80.74 126.74,80.95 127.19,81.16 127.65,81.38 128.10,81.60 128.56,81.82 129.01,82.05 129.47,82.28 129.92,82.52 130.38,82.76 130.83,83.00 131.28,83.25 131.74,83.51 132.19,83.77 132.65,84.04 133.10,84.31 133.56,84.59 134.01,84.88 134.47,85.17 134.92,85.47 135.37,85.78 135.83,86.09 136.28,86.42 136.74,86.75 137.19,87.09 137.65,87.45 138.10,87.81 138.56,88.18 139.01,88.57 139.47,88.97 139.92,89.38 140.37,89.81 140.83,90.25 141.28,90.71 141.74,91.19 142.19,91.68 142.65,92.20 143.10,92.74 143.56,93.31 144.01,93.90 144.46,94.70 144.92,95.55 145.37,96.44 145.83,97.39 146.28,98.40 146.74,99.48 147.19,100.64 147.65,101.89 148.10,103.25 148.56,104.74 149.01,106.38 149.46,108.23 149.92,110.31 150.37,112.72 150.83,115.57 151.28,119.06 151.74,123.56 152.19,129.90 152.65,140.74 153.10,143.00 153.55,141.04 154.01,130.20 154.46,123.86 154.92,119.36 155.37,115.87 155.83,113.02 156.28,110.61 156.74,108.53 157.19,106.68 157.64,105.04 158.10,103.55 158.55,102.19 159.01,100.94 159.46,99.78 159.92,98.70 160.37,97.69 160.83,96.74 161.28,95.85 161.74,95.00 162.19,94.20 162.64,93.66 163.10,93.14 163.55,92.65 164.01,92.18 164.46,91.73 164.92,91.29 165.37,90.88 165.83,90.47 166.28,90.09 166.73,89.71 167.19,89.35 167.64,88.99 168.10,88.65 168.55,88.32 169.01,88.00 169.46,87.69 169.92,87.39 170.37,87.09 170.83,86.80 171.28,86.52 171.73,86.25 172.19,85.98 172.64,85.72 173.10,85.47 173.55,85.22 174.01,84.98 174.46,84.74 174.92,84.50 175.37,84.28 175.82,84.05 176.28,83.83 176.73,83.62 177.19,83.41 177.64,83.20 178.10,83.00 178.55,82.80 179.01,82.60 179.46,82.41 179.92,82.22 180.37,82.03 180.82,81.85 181.28,81.67 181.73,81.49 182.19,81.32 182.64,81.15 183.10,80.98 183.55,80.81 184.01,80.65 184.46,80.49 184.91,80.33 185.37,80.17 185.82,80.01 186.28,79.86 186.73,79.71 187.19,79.56 187.64,79.42 188.10,79.27 188.55,79.13 189.01,78.99 189.46,78.85 189.91,78.71 190.37,78.57 190.82,78.44 191.28,78.31 191.73,78.18 192.19,78.05 192.64,77.92 193.10,77.79 193.55,77.67 194.00,77.54 194.46,77.42 194.91,77.30 195.37,77.18 195.82,77.06 196.28,76.94 196.73,76.83 197.19,76.71 197.64,76.60 198.10,76.49 198.55,76.38 199.00,76.27 199.46,76.16 199.91,76.05 200.37,75.94 200.82,75.84 201.28,75.73 201.73,75.63 202.19,75.52 202.64,75.42 203.09,75.32 203.55,75.22 204.00,75.12 204.46,75.02 204.91,74.93 205.37,74.83 205.82,74.73 206.28,74.64 206.73,74.54 207.19,74.45 207.64,74.36 208.09,74.27 208.55,74.17 209.00,74.08 209.46,73.99 209.91,73.91 210.37,73.82 210.82,73.73 211.28,73.64 211.73,73.56 212.19,73.47 212.64,73.39 213.09,73.30 213.55,73.22 214.00,73.14 214.46,73.05 214.91,72.97 215.37,72.89 215.82,72.81 216.28,72.73 216.73,72.65 217.18,72.57 217.64,72.49 218.09,72.42 218.55,72.34 219.00,72.26 219.46,72.19 219.91,72.11 220.37,72.03 220.82,71.96 221.27,71.89 221.73,71.81 222.18,71.74 222.64,71.67 223.09,71.59 223.55,71.52 224.00,71.45 224.46,71.38 224.91,71.31 225.37,71.24 225.82,71.17 226.27,71.10 226.73,71.03 227.18,70.97 227.64,70.90 228.09,70.83 228.55,70.76 229.00,70.70 229.46,70.63 229.91,70.57 230.37,70.50 230.82,70.43 231.27,70.37 231.73,70.31 232.18,70.24 232.64,70.18 233.09,70.12 233.55,70.05 234.00,69.99 234.46,69.93 234.91,69.87 235.36,69.81 235.82,69.74 236.27,69.68 236.73,69.62 237.18,69.56 237.64,69.50 238.09,69.44 238.55,69.39 239.00,69.33 239.45,69.27 239.91,69.21 240.36,69.15 240.82,69.09 241.27,69.04 241.73,68.98 242.18,68.92 242.64,68.87 243.09,68.81 243.55,68.76 244.00,68.70" fill="none" stroke="#9f6fe0" stroke-width="1.9" stroke-linejoin="round" stroke-linecap="round" />
<polyline points="62.20,65.90 62.65,65.96 63.11,66.02 63.56,66.08 64.02,66.15 64.47,66.21 64.93,66.27 65.38,66.33 65.84,66.40 66.29,66.46 66.74,66.52 67.20,66.59 67.65,66.65 68.11,66.72 68.56,66.78 69.02,66.85 69.47,66.91 69.93,66.98 70.38,67.05 70.84,67.11 71.29,67.18 71.74,67.25 72.20,67.32 72.65,67.39 73.11,67.45 73.56,67.52 74.02,67.59 74.47,67.66 74.93,67.73 75.38,67.80 75.83,67.88 76.29,67.95 76.74,68.02 77.20,68.09 77.65,68.17 78.11,68.24 78.56,68.31 79.02,68.39 79.47,68.46 79.93,68.54 80.38,68.61 80.83,68.69 81.29,68.77 81.74,68.84 82.20,68.92 82.65,69.00 83.11,69.08 83.56,69.16 84.02,69.24 84.47,69.32 84.92,69.40 85.38,69.48 85.83,69.56 86.29,69.64 86.74,69.73 87.20,69.81 87.65,69.89 88.11,69.98 88.56,70.06 89.02,70.15 89.47,70.24 89.92,70.32 90.38,70.41 90.83,70.50 91.29,70.59 91.74,70.68 92.20,70.77 92.65,70.86 93.11,70.95 93.56,71.05 94.01,71.14 94.47,71.23 94.92,71.33 95.38,71.42 95.83,71.52 96.29,71.62 96.74,71.71 97.20,71.81 97.65,71.91 98.11,72.01 98.56,72.11 99.01,72.21 99.47,72.32 99.92,72.42 100.38,72.52 100.83,72.63 101.29,72.74 101.74,72.84 102.20,72.95 102.65,73.06 103.10,73.17 103.56,73.28 104.01,73.39 104.47,73.51 104.92,73.62 105.38,73.74 105.83,73.85 106.29,73.97 106.74,74.09 107.20,74.21 107.65,74.33 108.10,74.45 108.56,74.57 109.01,74.70 109.47,74.83 109.92,74.95 110.38,75.08 110.83,75.21 111.29,75.34 111.74,75.48 112.19,75.61 112.65,75.75 113.10,75.88 113.56,76.02 114.01,76.16 114.47,76.31 114.92,76.45 115.38,76.59 115.83,76.74 116.29,76.89 116.74,77.04 117.19,77.20 117.65,77.35 118.10,77.51 118.56,77.67 119.01,77.83 119.47,77.99 119.92,78.16 120.38,78.32 120.83,78.49 121.28,78.67 121.74,78.84 122.19,79.02 122.65,79.20 123.10,79.38 123.56,79.57 124.01,79.76 124.47,79.95 124.92,80.14 125.38,80.34 125.83,80.54 126.28,80.74 126.74,80.95 127.19,81.16 127.65,81.38 128.10,81.60 128.56,81.82 129.01,82.05 129.47,82.28 129.92,82.52 130.38,82.76 130.83,83.00 131.28,83.25 131.74,83.51 132.19,83.77 132.65,84.04 133.10,84.31 133.56,84.59 134.01,84.88 134.47,85.17 134.92,85.47 135.37,85.78 135.83,86.09 136.28,86.42 136.74,86.75 137.19,87.09 137.65,87.45 138.10,87.81 138.56,88.18 139.01,88.57 139.47,88.97 139.92,89.38 140.37,89.81 140.83,90.25 141.28,90.71 141.74,91.19 142.19,91.68 142.65,92.20 143.10,92.74 143.56,93.31 144.01,93.90 144.46,94.70 144.92,95.55 145.37,96.44 145.83,97.39 146.28,98.40 146.74,99.48 147.19,100.64 147.65,101.89 148.10,103.25 148.56,104.74" fill="none" stroke="#9f6fe0" stroke-width="4.3" stroke-linejoin="round" stroke-linecap="round" />
<polyline points="157.64,105.04 158.10,103.55 158.55,102.19 159.01,100.94 159.46,99.78 159.92,98.70 160.37,97.69 160.83,96.74 161.28,95.85 161.74,95.00 162.19,94.20 162.64,93.66 163.10,93.14 163.55,92.65 164.01,92.18 164.46,91.73 164.92,91.29 165.37,90.88 165.83,90.47 166.28,90.09 166.73,89.71 167.19,89.35 167.64,88.99 168.10,88.65 168.55,88.32 169.01,88.00 169.46,87.69 169.92,87.39 170.37,87.09 170.83,86.80 171.28,86.52 171.73,86.25 172.19,85.98 172.64,85.72 173.10,85.47 173.55,85.22 174.01,84.98 174.46,84.74 174.92,84.50 175.37,84.28 175.82,84.05 176.28,83.83 176.73,83.62 177.19,83.41 177.64,83.20 178.10,83.00 178.55,82.80 179.01,82.60 179.46,82.41 179.92,82.22 180.37,82.03 180.82,81.85 181.28,81.67 181.73,81.49 182.19,81.32 182.64,81.15 183.10,80.98 183.55,80.81 184.01,80.65 184.46,80.49 184.91,80.33 185.37,80.17 185.82,80.01 186.28,79.86 186.73,79.71 187.19,79.56 187.64,79.42 188.10,79.27 188.55,79.13 189.01,78.99 189.46,78.85 189.91,78.71 190.37,78.57 190.82,78.44 191.28,78.31 191.73,78.18 192.19,78.05 192.64,77.92 193.10,77.79 193.55,77.67 194.00,77.54 194.46,77.42 194.91,77.30 195.37,77.18 195.82,77.06 196.28,76.94 196.73,76.83 197.19,76.71 197.64,76.60 198.10,76.49 198.55,76.38 199.00,76.27 199.46,76.16 199.91,76.05 200.37,75.94 200.82,75.84 201.28,75.73 201.73,75.63 202.19,75.52 202.64,75.42 203.09,75.32 203.55,75.22 204.00,75.12 204.46,75.02 204.91,74.93 205.37,74.83 205.82,74.73 206.28,74.64 206.73,74.54 207.19,74.45 207.64,74.36 208.09,74.27 208.55,74.17 209.00,74.08 209.46,73.99 209.91,73.91 210.37,73.82 210.82,73.73 211.28,73.64 211.73,73.56 212.19,73.47 212.64,73.39 213.09,73.30 213.55,73.22 214.00,73.14 214.46,73.05 214.91,72.97 215.37,72.89 215.82,72.81 216.28,72.73 216.73,72.65 217.18,72.57 217.64,72.49 218.09,72.42 218.55,72.34 219.00,72.26 219.46,72.19 219.91,72.11 220.37,72.03 220.82,71.96 221.27,71.89 221.73,71.81 222.18,71.74 222.64,71.67 223.09,71.59 223.55,71.52 224.00,71.45 224.46,71.38 224.91,71.31 225.37,71.24 225.82,71.17 226.27,71.10 226.73,71.03 227.18,70.97 227.64,70.90 228.09,70.83 228.55,70.76 229.00,70.70 229.46,70.63 229.91,70.57 230.37,70.50 230.82,70.43 231.27,70.37 231.73,70.31 232.18,70.24 232.64,70.18 233.09,70.12 233.55,70.05 234.00,69.99 234.46,69.93 234.91,69.87 235.36,69.81 235.82,69.74 236.27,69.68 236.73,69.62 237.18,69.56 237.64,69.50 238.09,69.44 238.55,69.39 239.00,69.33 239.45,69.27 239.91,69.21 240.36,69.15 240.82,69.09 241.27,69.04 241.73,68.98 242.18,68.92 242.64,68.87 243.09,68.81 243.55,68.76 244.00,68.70" fill="none" stroke="#9f6fe0" stroke-width="4.3" stroke-linejoin="round" stroke-linecap="round" />
<polygon points="150.9,183.6 155.3,183.6 153.1,179.6" fill="#1f63e6"/>
<circle cx="156.0" cy="152.5" r="1.6" fill="#ff3333"/>
<rect x="152.60" y="153.50" width="3.00" height="3.00" fill="#444444" stroke="none" stroke-width="1"/>
<polygon points="155.6,128.6 159.6,128.6 157.6,132.2" fill="#2e9e55"/>
<rect x="53.50" y="31.00" width="199.50" height="161.00" fill="none" stroke="#000" stroke-width="2"/>
<line x1="62.20" y1="192.00" x2="62.20" y2="189.00" stroke="#000" stroke-width="1.3" />
<line x1="107.65" y1="192.00" x2="107.65" y2="189.00" stroke="#000" stroke-width="1.3" />
<line x1="153.10" y1="192.00" x2="153.10" y2="189.00" stroke="#000" stroke-width="1.3" />
<line x1="198.55" y1="192.00" x2="198.55" y2="189.00" stroke="#000" stroke-width="1.3" />
<line x1="244.00" y1="192.00" x2="244.00" y2="189.00" stroke="#000" stroke-width="1.3" />
<line x1="84.92" y1="192.00" x2="84.92" y2="190.00" stroke="#000" stroke-width="1.1" />
<line x1="130.38" y1="192.00" x2="130.38" y2="190.00" stroke="#000" stroke-width="1.1" />
<line x1="175.82" y1="192.00" x2="175.82" y2="190.00" stroke="#000" stroke-width="1.1" />
<line x1="221.27" y1="192.00" x2="221.27" y2="190.00" stroke="#000" stroke-width="1.1" />
<line x1="53.50" y1="186.52" x2="56.50" y2="186.52" stroke="#000" stroke-width="1.3" />
<line x1="53.50" y1="179.09" x2="55.30" y2="179.09" stroke="#000" stroke-width="0.9" />
<line x1="53.50" y1="174.75" x2="55.30" y2="174.75" stroke="#000" stroke-width="0.9" />
<line x1="53.50" y1="171.67" x2="55.30" y2="171.67" stroke="#000" stroke-width="0.9" />
<line x1="53.50" y1="169.28" x2="55.30" y2="169.28" stroke="#000" stroke-width="0.9" />
<line x1="53.50" y1="167.32" x2="55.30" y2="167.32" stroke="#000" stroke-width="0.9" />
<line x1="53.50" y1="165.67" x2="55.30" y2="165.67" stroke="#000" stroke-width="0.9" />
<line x1="53.50" y1="164.24" x2="55.30" y2="164.24" stroke="#000" stroke-width="0.9" />
<line x1="53.50" y1="162.98" x2="55.30" y2="162.98" stroke="#000" stroke-width="0.9" />
<line x1="53.50" y1="161.85" x2="56.50" y2="161.85" stroke="#000" stroke-width="1.3" />
<line x1="53.50" y1="154.42" x2="55.30" y2="154.42" stroke="#000" stroke-width="0.9" />
<line x1="53.50" y1="150.08" x2="55.30" y2="150.08" stroke="#000" stroke-width="0.9" />
<line x1="53.50" y1="147.00" x2="55.30" y2="147.00" stroke="#000" stroke-width="0.9" />
<line x1="53.50" y1="144.61" x2="55.30" y2="144.61" stroke="#000" stroke-width="0.9" />
<line x1="53.50" y1="142.65" x2="55.30" y2="142.65" stroke="#000" stroke-width="0.9" />
<line x1="53.50" y1="141.00" x2="55.30" y2="141.00" stroke="#000" stroke-width="0.9" />
<line x1="53.50" y1="139.57" x2="55.30" y2="139.57" stroke="#000" stroke-width="0.9" />
<line x1="53.50" y1="138.31" x2="55.30" y2="138.31" stroke="#000" stroke-width="0.9" />
<line x1="53.50" y1="137.18" x2="56.50" y2="137.18" stroke="#000" stroke-width="1.3" />
<line x1="53.50" y1="129.75" x2="55.30" y2="129.75" stroke="#000" stroke-width="0.9" />
<line x1="53.50" y1="125.41" x2="55.30" y2="125.41" stroke="#000" stroke-width="0.9" />
<line x1="53.50" y1="122.33" x2="55.30" y2="122.33" stroke="#000" stroke-width="0.9" />
<line x1="53.50" y1="119.94" x2="55.30" y2="119.94" stroke="#000" stroke-width="0.9" />
<line x1="53.50" y1="117.98" x2="55.30" y2="117.98" stroke="#000" stroke-width="0.9" />
<line x1="53.50" y1="116.33" x2="55.30" y2="116.33" stroke="#000" stroke-width="0.9" />
<line x1="53.50" y1="114.90" x2="55.30" y2="114.90" stroke="#000" stroke-width="0.9" />
<line x1="53.50" y1="113.64" x2="55.30" y2="113.64" stroke="#000" stroke-width="0.9" />
<line x1="53.50" y1="112.51" x2="56.50" y2="112.51" stroke="#000" stroke-width="1.3" />
<line x1="53.50" y1="105.08" x2="55.30" y2="105.08" stroke="#000" stroke-width="0.9" />
<line x1="53.50" y1="100.74" x2="55.30" y2="100.74" stroke="#000" stroke-width="0.9" />
<line x1="53.50" y1="97.66" x2="55.30" y2="97.66" stroke="#000" stroke-width="0.9" />
<line x1="53.50" y1="95.27" x2="55.30" y2="95.27" stroke="#000" stroke-width="0.9" />
<line x1="53.50" y1="93.31" x2="55.30" y2="93.31" stroke="#000" stroke-width="0.9" />
<line x1="53.50" y1="91.66" x2="55.30" y2="91.66" stroke="#000" stroke-width="0.9" />
<line x1="53.50" y1="90.23" x2="55.30" y2="90.23" stroke="#000" stroke-width="0.9" />
<line x1="53.50" y1="88.97" x2="55.30" y2="88.97" stroke="#000" stroke-width="0.9" />
<line x1="53.50" y1="87.84" x2="56.50" y2="87.84" stroke="#000" stroke-width="1.3" />
<line x1="53.50" y1="80.41" x2="55.30" y2="80.41" stroke="#000" stroke-width="0.9" />
<line x1="53.50" y1="76.07" x2="55.30" y2="76.07" stroke="#000" stroke-width="0.9" />
<line x1="53.50" y1="72.99" x2="55.30" y2="72.99" stroke="#000" stroke-width="0.9" />
<line x1="53.50" y1="70.60" x2="55.30" y2="70.60" stroke="#000" stroke-width="0.9" />
<line x1="53.50" y1="68.64" x2="55.30" y2="68.64" stroke="#000" stroke-width="0.9" />
<line x1="53.50" y1="66.99" x2="55.30" y2="66.99" stroke="#000" stroke-width="0.9" />
<line x1="53.50" y1="65.56" x2="55.30" y2="65.56" stroke="#000" stroke-width="0.9" />
<line x1="53.50" y1="64.30" x2="55.30" y2="64.30" stroke="#000" stroke-width="0.9" />
<line x1="53.50" y1="63.17" x2="56.50" y2="63.17" stroke="#000" stroke-width="1.3" />
<line x1="53.50" y1="55.74" x2="55.30" y2="55.74" stroke="#000" stroke-width="0.9" />
<line x1="53.50" y1="51.40" x2="55.30" y2="51.40" stroke="#000" stroke-width="0.9" />
<line x1="53.50" y1="48.32" x2="55.30" y2="48.32" stroke="#000" stroke-width="0.9" />
<line x1="53.50" y1="45.93" x2="55.30" y2="45.93" stroke="#000" stroke-width="0.9" />
<line x1="53.50" y1="43.97" x2="55.30" y2="43.97" stroke="#000" stroke-width="0.9" />
<line x1="53.50" y1="42.32" x2="55.30" y2="42.32" stroke="#000" stroke-width="0.9" />
<line x1="53.50" y1="40.89" x2="55.30" y2="40.89" stroke="#000" stroke-width="0.9" />
<line x1="53.50" y1="39.63" x2="55.30" y2="39.63" stroke="#000" stroke-width="0.9" />
<line x1="53.50" y1="38.50" x2="56.50" y2="38.50" stroke="#000" stroke-width="1.3" />
<text transform="matrix(0.9200 0 0 1 31.42 42.70)" font-family="Liberation Sans" font-size="12.00" font-weight="normal" fill="#111" stroke="#111" stroke-width="0.2">10<tspan font-size="60%" dy="-0.70em">-5</tspan></text>
<text transform="matrix(0.9200 0 0 1 31.42 67.37)" font-family="Liberation Sans" font-size="12.00" font-weight="normal" fill="#111" stroke="#111" stroke-width="0.2">10<tspan font-size="60%" dy="-0.70em">-6</tspan></text>
<text transform="matrix(0.9200 0 0 1 31.47 92.04)" font-family="Liberation Sans" font-size="12.00" font-weight="normal" fill="#111" stroke="#111" stroke-width="0.2">10<tspan font-size="60%" dy="-0.70em">-7</tspan></text>
<text transform="matrix(0.9200 0 0 1 31.42 116.71)" font-family="Liberation Sans" font-size="12.00" font-weight="normal" fill="#111" stroke="#111" stroke-width="0.2">10<tspan font-size="60%" dy="-0.70em">-8</tspan></text>
<text transform="matrix(0.9200 0 0 1 31.42 141.38)" font-family="Liberation Sans" font-size="12.00" font-weight="normal" fill="#111" stroke="#111" stroke-width="0.2">10<tspan font-size="60%" dy="-0.70em">-9</tspan></text>
<text transform="matrix(0.9200 0 0 1 27.72 166.05)" font-family="Liberation Sans" font-size="12.00" font-weight="normal" fill="#111" stroke="#111" stroke-width="0.2">10<tspan font-size="60%" dy="-0.70em">-10</tspan></text>
<text transform="matrix(0.9200 0 0 1 28.27 190.72)" font-family="Liberation Sans" font-size="12.00" font-weight="normal" fill="#111" stroke="#111" stroke-width="0.2">10<tspan font-size="60%" dy="-0.70em">-11</tspan></text>
<text transform="matrix(0.9200 0 0 1 54.28 204.90)" font-family="Liberation Sans" font-size="11.57" font-weight="normal" fill="#111" stroke="#111" stroke-width="0.2">-10</text>
<text transform="matrix(0.9200 0 0 1 102.71 204.90)" font-family="Liberation Sans" font-size="11.57" font-weight="normal" fill="#111" stroke="#111" stroke-width="0.2">-5</text>
<text transform="matrix(0.9200 0 0 1 149.95 204.90)" font-family="Liberation Sans" font-size="11.57" font-weight="normal" fill="#111" stroke="#111" stroke-width="0.2">0</text>
<text transform="matrix(0.9200 0 0 1 195.40 204.90)" font-family="Liberation Sans" font-size="11.57" font-weight="normal" fill="#111" stroke="#111" stroke-width="0.2">5</text>
<text transform="matrix(0.9200 0 0 1 237.68 204.90)" font-family="Liberation Sans" font-size="11.57" font-weight="normal" fill="#111" stroke="#111" stroke-width="0.2">10</text>
<text transform="matrix(0.9303 0 0 1 112.02 221.30)" font-family="Liberation Sans" font-size="18.26" font-weight="normal" fill="#111" stroke="#111" stroke-width="0.2">Voltage (V)</text>
<text transform="matrix(0 -0.9483 1 0 21.30 149.05)" font-family="Liberation Sans" font-size="17.97" font-weight="normal" fill="#111" stroke="#111" stroke-width="0.2">Current (A)</text>
<text transform="matrix(1.0096 0 0 1 79.40 47.00)" font-family="Liberation Sans" font-size="13.62" font-weight="normal" fill="#111" stroke="#111" stroke-width="0.2">Leaf/Al/Glycerin/Ag paste</text>
<text transform="matrix(1.0313 0 0 1 124.98 65.00)" font-family="Liberation Sans" font-size="13.62" font-weight="normal" fill="#111" stroke="#111" stroke-width="0.2">RH = 50%</text>
<line x1="193.20" y1="129.30" x2="217.70" y2="129.30" stroke="#444444" stroke-width="2.0" />
<rect x="203.50" y="127.30" width="4.00" height="4.00" fill="#444444" stroke="none" stroke-width="1"/>
<text transform="matrix(1.0533 0 0 1 219.53 132.80)" font-family="Liberation Sans" font-size="9.86" font-weight="bold" fill="#1a1208" stroke="#1a1208" stroke-width="0.25">Day-1</text>
<line x1="193.20" y1="142.60" x2="217.70" y2="142.60" stroke="#ff3333" stroke-width="2.0" />
<circle cx="205.5" cy="142.60000000000002" r="2" fill="#ff3333"/>
<text transform="matrix(1.0999 0 0 1 219.50 146.10)" font-family="Liberation Sans" font-size="9.86" font-weight="bold" fill="#1a1208" stroke="#1a1208" stroke-width="0.25">Day-2</text>
<line x1="193.20" y1="155.90" x2="217.70" y2="155.90" stroke="#1f63e6" stroke-width="2.0" />
<polygon points="203.2,157.5 207.8,157.5 205.5,153.5" fill="#1f63e6"/>
<text transform="matrix(1.0999 0 0 1 219.50 159.40)" font-family="Liberation Sans" font-size="9.86" font-weight="bold" fill="#1a1208" stroke="#1a1208" stroke-width="0.25">Day-3</text>
<line x1="193.20" y1="169.20" x2="217.70" y2="169.20" stroke="#2e9e55" stroke-width="2.0" />
<polygon points="203.2,167.60000000000002 207.8,167.60000000000002 205.5,171.60000000000002" fill="#2e9e55"/>
<text transform="matrix(1.0854 0 0 1 219.50 172.70)" font-family="Liberation Sans" font-size="9.86" font-weight="bold" fill="#1a1208" stroke="#1a1208" stroke-width="0.25">Day-4</text>
<line x1="193.20" y1="182.50" x2="217.70" y2="182.50" stroke="#9f6fe0" stroke-width="2.0" />
<polygon points="203.2,182.5 205.5,180.0 207.8,182.5 205.5,185.0" fill="#9f6fe0"/>
<text transform="matrix(1.0957 0 0 1 219.50 186.00)" font-family="Liberation Sans" font-size="9.86" font-weight="bold" fill="#1a1208" stroke="#1a1208" stroke-width="0.25">Day-5</text>
<text transform="matrix(1.0006 0 0 1 307.57 26.32)" font-family="Liberation Serif" font-size="22.78" font-weight="normal" fill="#000">(b)</text>
<line x1="513.00" y1="42.20" x2="513.00" y2="75.40" stroke="#ff5a5a" stroke-width="0.8" />
<line x1="510.80" y1="42.20" x2="515.20" y2="42.20" stroke="#ff5a5a" stroke-width="0.8" />
<line x1="510.80" y1="75.40" x2="515.20" y2="75.40" stroke="#ff5a5a" stroke-width="0.8" />
<line x1="472.70" y1="79.80" x2="472.70" y2="114.50" stroke="#555555" stroke-width="0.8" />
<line x1="470.50" y1="79.80" x2="474.90" y2="79.80" stroke="#555555" stroke-width="0.8" />
<line x1="470.50" y1="114.50" x2="474.90" y2="114.50" stroke="#555555" stroke-width="0.8" />
<line x1="469.40" y1="87.50" x2="469.40" y2="115.20" stroke="#6a6aff" stroke-width="0.8" />
<line x1="467.20" y1="87.50" x2="471.60" y2="87.50" stroke="#6a6aff" stroke-width="0.8" />
<line x1="467.20" y1="115.20" x2="471.60" y2="115.20" stroke="#6a6aff" stroke-width="0.8" />
<line x1="417.90" y1="100.00" x2="417.90" y2="135.40" stroke="#6a6aff" stroke-width="0.8" />
<line x1="415.70" y1="100.00" x2="420.10" y2="100.00" stroke="#6a6aff" stroke-width="0.8" />
<line x1="415.70" y1="135.40" x2="420.10" y2="135.40" stroke="#6a6aff" stroke-width="0.8" />
<line x1="417.90" y1="120.00" x2="417.90" y2="131.00" stroke="#ff5a5a" stroke-width="0.8" />
<line x1="415.70" y1="120.00" x2="420.10" y2="120.00" stroke="#ff5a5a" stroke-width="0.8" />
<line x1="415.70" y1="131.00" x2="420.10" y2="131.00" stroke="#ff5a5a" stroke-width="0.8" />
<line x1="387.60" y1="149.70" x2="387.60" y2="163.00" stroke="#6a6aff" stroke-width="0.8" />
<line x1="385.40" y1="149.70" x2="389.80" y2="149.70" stroke="#6a6aff" stroke-width="0.8" />
<line x1="385.40" y1="163.00" x2="389.80" y2="163.00" stroke="#6a6aff" stroke-width="0.8" />
<line x1="404.20" y1="147.00" x2="404.20" y2="163.00" stroke="#555555" stroke-width="0.8" />
<line x1="402.00" y1="147.00" x2="406.40" y2="147.00" stroke="#555555" stroke-width="0.8" />
<line x1="402.00" y1="163.00" x2="406.40" y2="163.00" stroke="#555555" stroke-width="0.8" />
<line x1="361.50" y1="163.00" x2="361.50" y2="170.50" stroke="#ff5a5a" stroke-width="0.8" />
<line x1="359.30" y1="163.00" x2="363.70" y2="163.00" stroke="#ff5a5a" stroke-width="0.8" />
<line x1="359.30" y1="170.50" x2="363.70" y2="170.50" stroke="#ff5a5a" stroke-width="0.8" />
<line x1="384.90" y1="139.50" x2="384.90" y2="144.50" stroke="#ff5a5a" stroke-width="0.8" />
<line x1="382.70" y1="139.50" x2="387.10" y2="139.50" stroke="#ff5a5a" stroke-width="0.8" />
<line x1="382.70" y1="144.50" x2="387.10" y2="144.50" stroke="#ff5a5a" stroke-width="0.8" />
<polyline points="359.50,174.70 363.90,173.40 387.60,165.20 404.20,155.50 472.70,96.80" fill="none" stroke="#000" stroke-width="2.0" stroke-linejoin="round" stroke-linecap="round" />
<polyline points="352.60,171.40 361.50,167.00 384.90,142.00 417.90,123.20 513.00,58.80" fill="none" stroke="#ff0000" stroke-width="2.0" stroke-linejoin="round" stroke-linecap="round" />
<polyline points="387.60,155.90 417.90,117.70 469.40,101.20" fill="none" stroke="#0000ff" stroke-width="2.0" stroke-linejoin="round" stroke-linecap="round" />
<rect x="357.70" y="172.90" width="3.60" height="3.60" fill="#000" stroke="none" stroke-width="1"/>
<rect x="362.10" y="171.60" width="3.60" height="3.60" fill="#000" stroke="none" stroke-width="1"/>
<rect x="385.80" y="163.40" width="3.60" height="3.60" fill="#000" stroke="none" stroke-width="1"/>
<rect x="402.40" y="153.70" width="3.60" height="3.60" fill="#000" stroke="none" stroke-width="1"/>
<rect x="470.90" y="95.00" width="3.60" height="3.60" fill="#000" stroke="none" stroke-width="1"/>
<circle cx="352.6" cy="171.4" r="2.1" fill="#ff0000"/>
<circle cx="361.5" cy="167.0" r="2.1" fill="#ff0000"/>
<circle cx="384.9" cy="142.0" r="2.1" fill="#ff0000"/>
<circle cx="417.9" cy="123.2" r="2.1" fill="#ff0000"/>
<circle cx="513.0" cy="58.8" r="2.1" fill="#ff0000"/>
<polygon points="385.20000000000005,157.70000000000002 390.0,157.70000000000002 387.6,153.5" fill="#0000ff"/>
<polygon points="415.5,119.5 420.29999999999995,119.5 417.9,115.3" fill="#0000ff"/>
<polygon points="467.0,103.0 471.79999999999995,103.0 469.4,98.8" fill="#0000ff"/>
<rect x="344.20" y="28.30" width="194.00" height="158.50" fill="none" stroke="#000" stroke-width="1.6"/>
<line x1="349.00" y1="186.80" x2="349.00" y2="184.20" stroke="#000" stroke-width="1.2" />
<line x1="403.00" y1="186.80" x2="403.00" y2="184.20" stroke="#000" stroke-width="1.2" />
<line x1="457.00" y1="186.80" x2="457.00" y2="184.20" stroke="#000" stroke-width="1.2" />
<line x1="511.00" y1="186.80" x2="511.00" y2="184.20" stroke="#000" stroke-width="1.2" />
<line x1="376.00" y1="186.80" x2="376.00" y2="185.20" stroke="#000" stroke-width="1.0" />
<line x1="430.00" y1="186.80" x2="430.00" y2="185.20" stroke="#000" stroke-width="1.0" />
<line x1="484.00" y1="186.80" x2="484.00" y2="185.20" stroke="#000" stroke-width="1.0" />
<line x1="344.20" y1="177.80" x2="346.70" y2="177.80" stroke="#000" stroke-width="1.1" />
<line x1="344.20" y1="133.80" x2="346.70" y2="133.80" stroke="#000" stroke-width="1.1" />
<line x1="344.20" y1="89.80" x2="346.70" y2="89.80" stroke="#000" stroke-width="1.1" />
<line x1="344.20" y1="45.80" x2="346.70" y2="45.80" stroke="#000" stroke-width="1.1" />
<line x1="344.20" y1="155.80" x2="346.00" y2="155.80" stroke="#000" stroke-width="1" />
<line x1="344.20" y1="111.80" x2="346.00" y2="111.80" stroke="#000" stroke-width="1" />
<line x1="344.20" y1="67.80" x2="346.00" y2="67.80" stroke="#000" stroke-width="1" />
<text transform="matrix(1.0000 0 0 1 345.47 199.40)" font-family="Liberation Sans" font-size="12.00" font-weight="normal" fill="#111" stroke="#111" stroke-width="0.2">0</text>
<text transform="matrix(1.0000 0 0 1 399.47 199.40)" font-family="Liberation Sans" font-size="12.00" font-weight="normal" fill="#111" stroke="#111" stroke-width="0.2">2</text>
<text transform="matrix(1.0000 0 0 1 453.50 199.40)" font-family="Liberation Sans" font-size="12.00" font-weight="normal" fill="#111" stroke="#111" stroke-width="0.2">4</text>
<text transform="matrix(1.0000 0 0 1 507.44 199.40)" font-family="Liberation Sans" font-size="12.00" font-weight="normal" fill="#111" stroke="#111" stroke-width="0.2">6</text>
<text transform="matrix(0.9700 0 0 1 333.36 181.40)" font-family="Liberation Sans" font-size="12.29" font-weight="normal" fill="#111" stroke="#111" stroke-width="0.2">0</text>
<text transform="matrix(0.9700 0 0 1 333.36 137.40)" font-family="Liberation Sans" font-size="12.29" font-weight="normal" fill="#111" stroke="#111" stroke-width="0.2">5</text>
<text transform="matrix(0.9700 0 0 1 326.69 93.40)" font-family="Liberation Sans" font-size="12.29" font-weight="normal" fill="#111" stroke="#111" stroke-width="0.2">10</text>
<text transform="matrix(0.9700 0 0 1 326.75 49.40)" font-family="Liberation Sans" font-size="12.29" font-weight="normal" fill="#111" stroke="#111" stroke-width="0.2">15</text>
<text transform="matrix(0.9704 0 0 1 343.72 218.00)" font-family="Liberation Sans" font-size="16.52" font-weight="normal" fill="#111" stroke="#111" stroke-width="0.2">Humidity Change Ratio (%)</text>
<text transform="matrix(0 -0.9569 1 0 320.40 159.53)" font-family="Liberation Sans" font-size="17.39" font-weight="normal" fill="#111" stroke="#111" stroke-width="0.2">Response (%)</text>
<text transform="matrix(1.0941 0 0 1 368.37 44.50)" font-family="Liberation Sans" font-size="12.90" font-weight="normal" fill="#111" stroke="#111" stroke-width="0.2">Leaf/Al/Glycerin/Ag paste</text>
<text transform="matrix(0.9693 0 0 1 412.93 61.50)" font-family="Liberation Sans" font-size="14.35" font-weight="normal" fill="#111" stroke="#111" stroke-width="0.2">V = 7V</text>
<line x1="459.50" y1="149.60" x2="480.00" y2="149.60" stroke="#000" stroke-width="1.6" />
<rect x="467.90" y="147.80" width="3.60" height="3.60" fill="#000" stroke="none" stroke-width="1"/>
<text transform="matrix(1.0475 0 0 1 481.85 152.40)" font-family="Liberation Sans" font-size="10.14" font-weight="normal" fill="#222" stroke="#222" stroke-width="0.2">RH = 70%</text>
<line x1="459.50" y1="162.50" x2="480.00" y2="162.50" stroke="#ff0000" stroke-width="1.6" />
<circle cx="469.7" cy="162.5" r="1.9" fill="#ff0000"/>
<text transform="matrix(1.0475 0 0 1 481.85 165.30)" font-family="Liberation Sans" font-size="10.14" font-weight="normal" fill="#222" stroke="#222" stroke-width="0.2">RH = 50%</text>
<line x1="459.50" y1="175.40" x2="480.00" y2="175.40" stroke="#0000ff" stroke-width="1.6" />
<polygon points="467.5,176.9 471.9,176.9 469.7,173.1" fill="#0000ff"/>
<text transform="matrix(1.0475 0 0 1 481.85 178.20)" font-family="Liberation Sans" font-size="10.14" font-weight="normal" fill="#222" stroke="#222" stroke-width="0.2">RH = 30%</text>
<text transform="matrix(1.0065 0 0 1 4.60 247.26)" font-family="Liberation Serif" font-size="22.11" font-weight="normal" fill="#000">(c)</text>
<rect x="63.20" y="265.10" width="18.70" height="149.50" fill="#aaffff" stroke="none" stroke-width="1"/>
<rect x="123.40" y="265.10" width="19.20" height="149.50" fill="#aaffff" stroke="none" stroke-width="1"/>
<rect x="187.10" y="265.10" width="18.70" height="149.50" fill="#aaffff" stroke="none" stroke-width="1"/>
<path d="M54.90,305.60 C55.75,305.60 58.90,304.78 60.00,305.60 C61.10,306.42 61.03,308.22 61.50,310.50 C61.97,312.78 62.32,316.35 62.80,319.30 C63.28,322.25 63.88,325.80 64.40,328.20 C64.92,330.60 65.42,331.48 65.90,333.70 C66.38,335.92 66.82,338.37 67.30,341.50 C67.78,344.63 68.18,348.45 68.80,352.50 C69.42,356.55 70.27,361.73 71.00,365.80 C71.73,369.87 72.47,373.77 73.20,376.90 C73.93,380.03 74.65,382.58 75.40,384.60 C76.15,386.62 77.00,388.03 77.70,389.00 C78.40,389.97 78.92,391.32 79.60,390.40 C80.28,389.48 81.08,386.87 81.80,383.50 C82.52,380.13 83.17,373.68 83.90,370.20 C84.63,366.72 85.52,365.55 86.20,362.60 C86.88,359.65 87.40,356.02 88.00,352.50 C88.60,348.98 88.92,344.78 89.80,341.50 C90.68,338.22 92.02,335.05 93.30,332.80 C94.58,330.55 96.38,329.22 97.50,328.00 C98.62,326.78 99.25,326.17 100.00,325.50 C100.75,324.83 101.15,324.63 102.00,324.00 C102.85,323.37 103.82,322.22 105.10,321.70 C106.38,321.18 108.28,321.42 109.70,320.90 C111.12,320.38 112.18,319.25 113.60,318.60 C115.02,317.95 116.78,317.45 118.20,317.00 C119.62,316.55 121.20,315.38 122.10,315.90 C123.00,316.42 123.08,318.10 123.60,320.10 C124.12,322.10 124.55,325.32 125.20,327.90 C125.85,330.48 126.73,333.03 127.50,335.60 C128.27,338.17 128.77,340.98 129.80,343.30 C130.83,345.62 132.40,347.55 133.70,349.50 C135.00,351.45 136.57,353.65 137.60,355.00 C138.63,356.35 139.27,357.22 139.90,357.60 C140.53,357.98 140.88,358.65 141.40,357.30 C141.92,355.95 142.22,352.35 143.00,349.50 C143.78,346.65 145.07,343.80 146.10,340.20 C147.13,336.60 148.25,330.80 149.20,327.90 C150.15,325.00 150.47,324.42 151.80,322.80 C153.13,321.18 155.42,319.70 157.20,318.20 C158.98,316.70 161.20,315.03 162.50,313.80 C163.80,312.57 163.93,311.37 165.00,310.80 C166.07,310.23 167.40,310.78 168.90,310.40 C170.40,310.02 172.30,309.17 174.00,308.50 C175.70,307.83 177.30,306.92 179.10,306.40 C180.90,305.88 183.42,305.15 184.80,305.40 C186.18,305.65 186.45,307.07 187.40,307.90 C188.35,308.73 189.45,309.45 190.50,310.40 C191.55,311.35 192.63,312.68 193.70,313.60 C194.77,314.52 195.73,315.62 196.90,315.90 C198.07,316.18 199.48,315.37 200.70,315.30 C201.92,315.23 203.07,316.05 204.20,315.50 C205.33,314.95 206.35,313.33 207.50,312.00 C208.65,310.67 209.90,309.07 211.10,307.50 C212.30,305.93 213.52,303.80 214.70,302.60 C215.88,301.40 216.97,300.70 218.20,300.30 C219.43,299.90 221.00,300.48 222.10,300.20 C223.20,299.92 223.70,299.05 224.80,298.60 C225.90,298.15 227.38,297.60 228.70,297.50 C230.02,297.40 231.28,297.92 232.70,298.00 C234.12,298.08 235.98,298.08 237.20,298.00 C238.42,297.92 239.07,297.97 240.00,297.50 C240.93,297.03 241.57,295.77 242.80,295.20 C244.03,294.63 246.17,294.33 247.40,294.10 C248.63,293.87 249.17,293.70 250.20,293.80 C251.23,293.90 252.30,294.65 253.60,294.70 C254.90,294.75 257.27,294.20 258.00,294.10" fill="none" stroke="#000" stroke-width="2.8" stroke-linejoin="round" stroke-linecap="round"/>
<rect x="55.20" y="265.10" width="203.60" height="149.50" fill="none" stroke="#000" stroke-width="1.7"/>
<line x1="54.90" y1="414.60" x2="54.90" y2="411.40" stroke="#000" stroke-width="1.4" />
<line x1="120.97" y1="414.60" x2="120.97" y2="411.40" stroke="#000" stroke-width="1.4" />
<line x1="187.04" y1="414.60" x2="187.04" y2="411.40" stroke="#000" stroke-width="1.4" />
<line x1="253.11" y1="414.60" x2="253.11" y2="411.40" stroke="#000" stroke-width="1.4" />
<line x1="87.94" y1="414.60" x2="87.94" y2="412.60" stroke="#000" stroke-width="1" />
<line x1="154.00" y1="414.60" x2="154.00" y2="412.60" stroke="#000" stroke-width="1" />
<line x1="220.07" y1="414.60" x2="220.07" y2="412.60" stroke="#000" stroke-width="1" />
<line x1="55.20" y1="402.69" x2="57.70" y2="402.69" stroke="#000" stroke-width="1.1" />
<line x1="55.20" y1="339.20" x2="57.70" y2="339.20" stroke="#000" stroke-width="1.1" />
<line x1="55.20" y1="280.80" x2="57.70" y2="280.80" stroke="#000" stroke-width="1.1" />
<line x1="55.20" y1="409.35" x2="57.20" y2="409.35" stroke="#000" stroke-width="1.1" />
<line x1="55.20" y1="396.08" x2="57.20" y2="396.08" stroke="#000" stroke-width="1.1" />
<line x1="55.20" y1="389.54" x2="57.20" y2="389.54" stroke="#000" stroke-width="1.1" />
<line x1="55.20" y1="383.05" x2="57.20" y2="383.05" stroke="#000" stroke-width="1.1" />
<line x1="55.20" y1="376.62" x2="57.20" y2="376.62" stroke="#000" stroke-width="1.1" />
<line x1="55.20" y1="370.25" x2="57.20" y2="370.25" stroke="#000" stroke-width="1.1" />
<line x1="55.20" y1="363.94" x2="57.20" y2="363.94" stroke="#000" stroke-width="1.1" />
<line x1="55.20" y1="357.67" x2="57.20" y2="357.67" stroke="#000" stroke-width="1.1" />
<line x1="55.20" y1="351.46" x2="57.20" y2="351.46" stroke="#000" stroke-width="1.1" />
<line x1="55.20" y1="345.31" x2="57.20" y2="345.31" stroke="#000" stroke-width="1.1" />
<line x1="55.20" y1="333.15" x2="57.20" y2="333.15" stroke="#000" stroke-width="1.1" />
<line x1="55.20" y1="327.14" x2="57.20" y2="327.14" stroke="#000" stroke-width="1.1" />
<line x1="55.20" y1="321.18" x2="57.20" y2="321.18" stroke="#000" stroke-width="1.1" />
<line x1="55.20" y1="315.28" x2="57.20" y2="315.28" stroke="#000" stroke-width="1.1" />
<line x1="55.20" y1="309.42" x2="57.20" y2="309.42" stroke="#000" stroke-width="1.1" />
<line x1="55.20" y1="303.60" x2="57.20" y2="303.60" stroke="#000" stroke-width="1.1" />
<line x1="55.20" y1="297.83" x2="57.20" y2="297.83" stroke="#000" stroke-width="1.1" />
<line x1="55.20" y1="292.11" x2="57.20" y2="292.11" stroke="#000" stroke-width="1.1" />
<line x1="55.20" y1="286.43" x2="57.20" y2="286.43" stroke="#000" stroke-width="1.1" />
<line x1="55.20" y1="275.21" x2="57.20" y2="275.21" stroke="#000" stroke-width="1.1" />
<line x1="55.20" y1="269.66" x2="57.20" y2="269.66" stroke="#000" stroke-width="1.1" />
<text transform="matrix(1.0040 0 0 1 51.48 429.10)" font-family="Liberation Sans" font-size="13.00" font-weight="normal" fill="#111" stroke="#111" stroke-width="0.2">0</text>
<text transform="matrix(0.9894 0 0 1 110.04 429.10)" font-family="Liberation Sans" font-size="13.00" font-weight="normal" fill="#111" stroke="#111" stroke-width="0.2">100</text>
<text transform="matrix(1.0906 0 0 1 174.59 429.10)" font-family="Liberation Sans" font-size="13.00" font-weight="normal" fill="#111" stroke="#111" stroke-width="0.2">200</text>
<text transform="matrix(1.0305 0 0 1 240.96 429.10)" font-family="Liberation Sans" font-size="13.00" font-weight="normal" fill="#111" stroke="#111" stroke-width="0.2">300</text>
<text transform="matrix(1.0482 0 0 1 23.56 407.19)" font-family="Liberation Sans" font-size="12.86" font-weight="normal" fill="#111" stroke="#111" stroke-width="0.2">0.22</text>
<text transform="matrix(1.0370 0 0 1 23.57 343.70)" font-family="Liberation Sans" font-size="12.86" font-weight="normal" fill="#111" stroke="#111" stroke-width="0.2">0.24</text>
<text transform="matrix(1.0454 0 0 1 23.56 285.30)" font-family="Liberation Sans" font-size="12.86" font-weight="normal" fill="#111" stroke="#111" stroke-width="0.2">0.26</text>
<text transform="matrix(1.0015 0 0 1 132.68 442.60)" font-family="Liberation Sans" font-size="16.81" font-weight="normal" fill="#111" stroke="#111" stroke-width="0.2">Time (s)</text>
<text transform="matrix(0 -0.9194 1 0 21.00 393.40)" font-family="Liberation Sans" font-size="17.39" font-weight="normal" fill="#111" stroke="#111" stroke-width="0.2">Current (μA)</text>
<text transform="matrix(1.0458 0 0 1 69.15 248.50)" font-family="Liberation Sans" font-size="12.46" font-weight="bold" fill="#1a1a88" stroke="#1a1a88" stroke-width="0.2">RH change</text>
<text transform="matrix(1.0187 0 0 1 141.68 248.80)" font-family="Liberation Sans" font-size="12.17" font-weight="bold" fill="#111" stroke="#111" stroke-width="0.2">(N<tspan font-size="72%" dy="0.38em">2</tspan><tspan dy="-0.27em"> injection)</tspan></text>
<text transform="matrix(1.0474 0 0 1 59.95 262.30)" font-family="Liberation Sans" font-size="12.43" font-weight="normal" fill="#ff1a1a" stroke="#ff1a1a" stroke-width="0.2">2.53%</text>
<text transform="matrix(1.0187 0 0 1 118.15 263.00)" font-family="Liberation Sans" font-size="12.43" font-weight="normal" fill="#ff1a1a" stroke="#ff1a1a" stroke-width="0.2">1.33%</text>
<text transform="matrix(1.0587 0 0 1 180.38 262.70)" font-family="Liberation Sans" font-size="12.29" font-weight="normal" fill="#ff1a1a" stroke="#ff1a1a" stroke-width="0.2">0.47%</text>
<text transform="matrix(1.0186 0 0 1 60.86 284.50)" font-family="Liberation Sans" font-size="12.29" font-weight="normal" fill="#2020ff" stroke="#2020ff" stroke-width="0.2">10.9%</text>
<text transform="matrix(1.0322 0 0 1 119.49 284.50)" font-family="Liberation Sans" font-size="12.29" font-weight="normal" fill="#2020ff" stroke="#2020ff" stroke-width="0.2">5.31%</text>
<text transform="matrix(1.0305 0 0 1 181.35 284.80)" font-family="Liberation Sans" font-size="12.29" font-weight="normal" fill="#2020ff" stroke="#2020ff" stroke-width="0.2">1.40%</text>
<text transform="matrix(0.9922 0 0 1 187.23 375.00)" font-family="Liberation Sans" font-size="14.78" font-weight="normal" fill="#111" stroke="#111" stroke-width="0.2">V = 7 V</text>
<text transform="matrix(1.0203 0 0 1 178.62 393.40)" font-family="Liberation Sans" font-size="14.49" font-weight="normal" fill="#111" stroke="#111" stroke-width="0.2">RH = 50%</text>
<text transform="matrix(0.9666 0 0 1 306.60 247.47)" font-family="Liberation Serif" font-size="23.00" font-weight="normal" fill="#000">(d)</text>
<polyline points="356.60,333.54 369.70,328.62 382.80,327.71 395.90,333.54 409.00,342.57 422.10,334.45 435.20,337.20 448.30,337.20 461.40,334.45 474.50,338.11 487.60,340.51 500.70,337.42 513.80,342.34 526.90,328.28" fill="none" stroke="#000" stroke-width="2.0" stroke-linejoin="round" stroke-linecap="round" />
<rect x="354.40" y="331.34" width="4.40" height="4.40" fill="#000" stroke="none" stroke-width="1"/>
<rect x="367.50" y="326.42" width="4.40" height="4.40" fill="#000" stroke="none" stroke-width="1"/>
<rect x="380.60" y="325.51" width="4.40" height="4.40" fill="#000" stroke="none" stroke-width="1"/>
<rect x="393.70" y="331.34" width="4.40" height="4.40" fill="#000" stroke="none" stroke-width="1"/>
<rect x="406.80" y="340.37" width="4.40" height="4.40" fill="#000" stroke="none" stroke-width="1"/>
<rect x="419.90" y="332.25" width="4.40" height="4.40" fill="#000" stroke="none" stroke-width="1"/>
<rect x="433.00" y="335.00" width="4.40" height="4.40" fill="#000" stroke="none" stroke-width="1"/>
<rect x="446.10" y="335.00" width="4.40" height="4.40" fill="#000" stroke="none" stroke-width="1"/>
<rect x="459.20" y="332.25" width="4.40" height="4.40" fill="#000" stroke="none" stroke-width="1"/>
<rect x="472.30" y="335.91" width="4.40" height="4.40" fill="#000" stroke="none" stroke-width="1"/>
<rect x="485.40" y="338.31" width="4.40" height="4.40" fill="#000" stroke="none" stroke-width="1"/>
<rect x="498.50" y="335.22" width="4.40" height="4.40" fill="#000" stroke="none" stroke-width="1"/>
<rect x="511.60" y="340.14" width="4.40" height="4.40" fill="#000" stroke="none" stroke-width="1"/>
<rect x="524.70" y="326.08" width="4.40" height="4.40" fill="#000" stroke="none" stroke-width="1"/>
<rect x="344.50" y="254.30" width="195.30" height="158.20" fill="none" stroke="#000" stroke-width="1.7"/>
<line x1="343.50" y1="412.50" x2="343.50" y2="410.00" stroke="#000" stroke-width="1.1" />
<line x1="382.80" y1="412.50" x2="382.80" y2="410.00" stroke="#000" stroke-width="1.1" />
<line x1="422.10" y1="412.50" x2="422.10" y2="410.00" stroke="#000" stroke-width="1.1" />
<line x1="461.40" y1="412.50" x2="461.40" y2="410.00" stroke="#000" stroke-width="1.1" />
<line x1="500.70" y1="412.50" x2="500.70" y2="410.00" stroke="#000" stroke-width="1.1" />
<line x1="540.00" y1="412.50" x2="540.00" y2="410.00" stroke="#000" stroke-width="1.1" />
<line x1="363.15" y1="412.50" x2="363.15" y2="410.70" stroke="#000" stroke-width="1" />
<line x1="402.45" y1="412.50" x2="402.45" y2="410.70" stroke="#000" stroke-width="1" />
<line x1="441.75" y1="412.50" x2="441.75" y2="410.70" stroke="#000" stroke-width="1" />
<line x1="481.05" y1="412.50" x2="481.05" y2="410.70" stroke="#000" stroke-width="1" />
<line x1="520.35" y1="412.50" x2="520.35" y2="410.70" stroke="#000" stroke-width="1" />
<line x1="344.50" y1="401.89" x2="347.00" y2="401.89" stroke="#000" stroke-width="1.1" />
<line x1="344.50" y1="367.60" x2="347.00" y2="367.60" stroke="#000" stroke-width="1.1" />
<line x1="344.50" y1="333.31" x2="347.00" y2="333.31" stroke="#000" stroke-width="1.1" />
<line x1="344.50" y1="299.02" x2="347.00" y2="299.02" stroke="#000" stroke-width="1.1" />
<line x1="344.50" y1="264.73" x2="347.00" y2="264.73" stroke="#000" stroke-width="1.1" />
<line x1="344.50" y1="384.75" x2="346.30" y2="384.75" stroke="#000" stroke-width="1" />
<line x1="344.50" y1="350.46" x2="346.30" y2="350.46" stroke="#000" stroke-width="1" />
<line x1="344.50" y1="316.17" x2="346.30" y2="316.17" stroke="#000" stroke-width="1" />
<line x1="344.50" y1="281.88" x2="346.30" y2="281.88" stroke="#000" stroke-width="1" />
<text transform="matrix(0.9200 0 0 1 340.93 426.50)" font-family="Liberation Sans" font-size="12.43" font-weight="normal" fill="#111" stroke="#111" stroke-width="0.2">0</text>
<text transform="matrix(0.9200 0 0 1 380.26 426.50)" font-family="Liberation Sans" font-size="12.43" font-weight="normal" fill="#111" stroke="#111" stroke-width="0.2">3</text>
<text transform="matrix(0.9200 0 0 1 419.50 426.50)" font-family="Liberation Sans" font-size="12.43" font-weight="normal" fill="#111" stroke="#111" stroke-width="0.2">6</text>
<text transform="matrix(0.9200 0 0 1 458.83 426.50)" font-family="Liberation Sans" font-size="12.43" font-weight="normal" fill="#111" stroke="#111" stroke-width="0.2">9</text>
<text transform="matrix(0.9200 0 0 1 494.81 426.50)" font-family="Liberation Sans" font-size="12.43" font-weight="normal" fill="#111" stroke="#111" stroke-width="0.2">12</text>
<text transform="matrix(0.9200 0 0 1 534.05 426.50)" font-family="Liberation Sans" font-size="12.43" font-weight="normal" fill="#111" stroke="#111" stroke-width="0.2">15</text>
<text transform="matrix(0.9200 0 0 1 330.55 406.19)" font-family="Liberation Sans" font-size="12.29" font-weight="normal" fill="#111" stroke="#111" stroke-width="0.2">-3</text>
<text transform="matrix(0.9200 0 0 1 334.28 371.90)" font-family="Liberation Sans" font-size="12.29" font-weight="normal" fill="#111" stroke="#111" stroke-width="0.2">0</text>
<text transform="matrix(0.9200 0 0 1 334.34 337.61)" font-family="Liberation Sans" font-size="12.29" font-weight="normal" fill="#111" stroke="#111" stroke-width="0.2">3</text>
<text transform="matrix(0.9200 0 0 1 334.34 303.32)" font-family="Liberation Sans" font-size="12.29" font-weight="normal" fill="#111" stroke="#111" stroke-width="0.2">6</text>
<text transform="matrix(0.9200 0 0 1 334.34 269.03)" font-family="Liberation Sans" font-size="12.29" font-weight="normal" fill="#111" stroke="#111" stroke-width="0.2">9</text>
<text transform="matrix(1.0263 0 0 1 371.84 443.50)" font-family="Liberation Sans" font-size="16.52" font-weight="normal" fill="#111" stroke="#111" stroke-width="0.2">Number of injections</text>
<text transform="matrix(0 -0.9979 1 0 322.10 383.11)" font-family="Liberation Sans" font-size="17.68" font-weight="normal" fill="#111" stroke="#111" stroke-width="0.2">Response (%)</text>
<text transform="matrix(1.1181 0 0 1 373.12 273.30)" font-family="Liberation Sans" font-size="12.03" font-weight="normal" fill="#111" stroke="#111" stroke-width="0.2">Leaf/Al/Glycerin/Ag paste</text>
<text transform="matrix(1.0166 0 0 1 417.53 289.90)" font-family="Liberation Sans" font-size="12.90" font-weight="normal" fill="#111" stroke="#111" stroke-width="0.2">V = 7V</text>
<text transform="matrix(1.0507 0 0 1 410.13 306.50)" font-family="Liberation Sans" font-size="12.75" font-weight="normal" fill="#111" stroke="#111" stroke-width="0.2">RH = 50%</text>
<text transform="matrix(1.0221 0 0 1 357.82 373.90)" font-family="Liberation Sans" font-size="13.19" font-weight="normal" fill="#111" stroke="#111" stroke-width="0.2">Humidity change ratio: 1.26%</text>
</svg>
</body></html>
